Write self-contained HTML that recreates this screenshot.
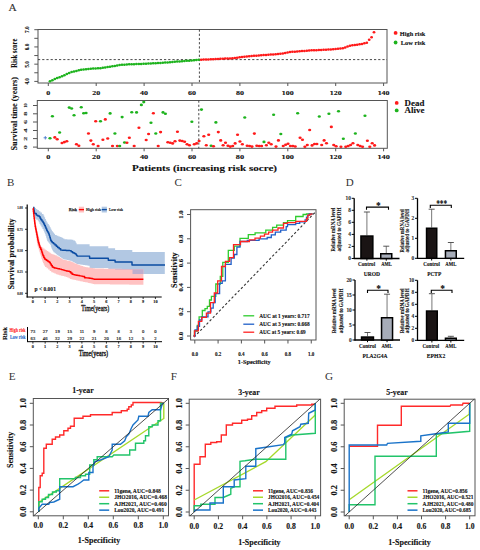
<!DOCTYPE html>
<html><head><meta charset="utf-8"><style>
html,body{margin:0;padding:0;background:#fff;width:480px;height:550px;overflow:hidden}
svg{display:block}
text{font-family:"Liberation Serif", serif}
</style></head><body>
<svg width="480" height="550" viewBox="0 0 480 550">
<rect width="480" height="550" fill="#fff"/>
<text x="8.6" y="10.7" font-size="11.3" stroke="#333" stroke-width="0.1" fill="#333" >A</text>
<rect x="38" y="29.5" width="349" height="53.5" stroke="#555" stroke-width="1" fill="none" />
<line x1="34.3" y1="29.7" x2="38" y2="29.7" stroke="#555" stroke-width="1" />
<line x1="34.3" y1="38.32" x2="38" y2="38.32" stroke="#555" stroke-width="1" />
<line x1="34.3" y1="46.93" x2="38" y2="46.93" stroke="#555" stroke-width="1" />
<line x1="34.3" y1="55.55" x2="38" y2="55.55" stroke="#555" stroke-width="1" />
<line x1="34.3" y1="64.17" x2="38" y2="64.17" stroke="#555" stroke-width="1" />
<line x1="34.3" y1="72.78" x2="38" y2="72.78" stroke="#555" stroke-width="1" />
<line x1="34.3" y1="81.4" x2="38" y2="81.4" stroke="#555" stroke-width="1" />
<text x="28.7" y="29.7" font-size="6.2" textLength="6.4" lengthAdjust="spacingAndGlyphs" stroke="#111" stroke-width="0.12" font-weight="bold" text-anchor="middle" fill="#111" transform="rotate(-90 28.7 29.7)" >7.0</text>
<text x="28.7" y="47" font-size="6.2" textLength="6.4" lengthAdjust="spacingAndGlyphs" stroke="#111" stroke-width="0.12" font-weight="bold" text-anchor="middle" fill="#111" transform="rotate(-90 28.7 47)" >6.0</text>
<text x="28.7" y="64.3" font-size="6.2" textLength="6.4" lengthAdjust="spacingAndGlyphs" stroke="#111" stroke-width="0.12" font-weight="bold" text-anchor="middle" fill="#111" transform="rotate(-90 28.7 64.3)" >5.0</text>
<text x="28.7" y="81.4" font-size="6.2" textLength="6.4" lengthAdjust="spacingAndGlyphs" stroke="#111" stroke-width="0.12" font-weight="bold" text-anchor="middle" fill="#111" transform="rotate(-90 28.7 81.4)" >4.0</text>
<text x="16.8" y="53.15" font-size="8" textLength="29" lengthAdjust="spacingAndGlyphs" stroke="#111" stroke-width="0.12" font-weight="bold" text-anchor="middle" fill="#111" transform="rotate(-90 16.8 53.15)" >Risk score</text>
<line x1="48.3" y1="83" x2="48.3" y2="86" stroke="#555" stroke-width="1" />
<text x="48.3" y="95.1" font-size="6.2" textLength="3.97" lengthAdjust="spacingAndGlyphs" stroke="#111" stroke-width="0.12" font-weight="bold" text-anchor="middle" fill="#111" >0</text>
<line x1="96.2" y1="83" x2="96.2" y2="86" stroke="#555" stroke-width="1" />
<text x="96.2" y="95.1" font-size="6.2" textLength="7.94" lengthAdjust="spacingAndGlyphs" stroke="#111" stroke-width="0.12" font-weight="bold" text-anchor="middle" fill="#111" >20</text>
<line x1="144.1" y1="83" x2="144.1" y2="86" stroke="#555" stroke-width="1" />
<text x="144.1" y="95.1" font-size="6.2" textLength="7.94" lengthAdjust="spacingAndGlyphs" stroke="#111" stroke-width="0.12" font-weight="bold" text-anchor="middle" fill="#111" >40</text>
<line x1="192" y1="83" x2="192" y2="86" stroke="#555" stroke-width="1" />
<text x="192" y="95.1" font-size="6.2" textLength="7.94" lengthAdjust="spacingAndGlyphs" stroke="#111" stroke-width="0.12" font-weight="bold" text-anchor="middle" fill="#111" >60</text>
<line x1="239.9" y1="83" x2="239.9" y2="86" stroke="#555" stroke-width="1" />
<text x="239.9" y="95.1" font-size="6.2" textLength="7.94" lengthAdjust="spacingAndGlyphs" stroke="#111" stroke-width="0.12" font-weight="bold" text-anchor="middle" fill="#111" >80</text>
<line x1="287.8" y1="83" x2="287.8" y2="86" stroke="#555" stroke-width="1" />
<text x="287.8" y="95.1" font-size="6.2" textLength="11.9" lengthAdjust="spacingAndGlyphs" stroke="#111" stroke-width="0.12" font-weight="bold" text-anchor="middle" fill="#111" >100</text>
<line x1="335.7" y1="83" x2="335.7" y2="86" stroke="#555" stroke-width="1" />
<text x="335.7" y="95.1" font-size="6.2" textLength="11.9" lengthAdjust="spacingAndGlyphs" stroke="#111" stroke-width="0.12" font-weight="bold" text-anchor="middle" fill="#111" >120</text>
<line x1="383.6" y1="83" x2="383.6" y2="86" stroke="#555" stroke-width="1" />
<text x="383.6" y="95.1" font-size="6.2" textLength="11.9" lengthAdjust="spacingAndGlyphs" stroke="#111" stroke-width="0.12" font-weight="bold" text-anchor="middle" fill="#111" >140</text>
<line x1="38" y1="59.6" x2="387" y2="59.6" stroke="#333" stroke-width="0.9" stroke-dasharray="2.2,2"/>
<line x1="199.4" y1="29.5" x2="199.4" y2="83" stroke="#333" stroke-width="0.9" stroke-dasharray="2.2,2"/>
<ellipse cx="50" cy="81.3" rx="1.4" ry="1.25" fill="#1db31d"/>
<ellipse cx="52.4" cy="80.24" rx="1.4" ry="1.25" fill="#1db31d"/>
<ellipse cx="54.8" cy="78.91" rx="1.4" ry="1.25" fill="#1db31d"/>
<ellipse cx="57.2" cy="78.01" rx="1.4" ry="1.25" fill="#1db31d"/>
<ellipse cx="59.6" cy="77.14" rx="1.4" ry="1.25" fill="#1db31d"/>
<ellipse cx="62" cy="76.2" rx="1.4" ry="1.25" fill="#1db31d"/>
<ellipse cx="64.4" cy="75.24" rx="1.4" ry="1.25" fill="#1db31d"/>
<ellipse cx="66.8" cy="74.1" rx="1.4" ry="1.25" fill="#1db31d"/>
<ellipse cx="69.2" cy="72.9" rx="1.4" ry="1.25" fill="#1db31d"/>
<ellipse cx="71.6" cy="72.1" rx="1.4" ry="1.25" fill="#1db31d"/>
<ellipse cx="74" cy="71.5" rx="1.4" ry="1.25" fill="#1db31d"/>
<ellipse cx="76.4" cy="70.9" rx="1.4" ry="1.25" fill="#1db31d"/>
<ellipse cx="78.8" cy="70.3" rx="1.4" ry="1.25" fill="#1db31d"/>
<ellipse cx="81.2" cy="69.82" rx="1.4" ry="1.25" fill="#1db31d"/>
<ellipse cx="83.6" cy="69.46" rx="1.4" ry="1.25" fill="#1db31d"/>
<ellipse cx="86" cy="69.15" rx="1.4" ry="1.25" fill="#1db31d"/>
<ellipse cx="88.4" cy="68.91" rx="1.4" ry="1.25" fill="#1db31d"/>
<ellipse cx="90.8" cy="68.71" rx="1.4" ry="1.25" fill="#1db31d"/>
<ellipse cx="93.2" cy="68.59" rx="1.4" ry="1.25" fill="#1db31d"/>
<ellipse cx="95.6" cy="68.47" rx="1.4" ry="1.25" fill="#1db31d"/>
<ellipse cx="98" cy="68.35" rx="1.4" ry="1.25" fill="#1db31d"/>
<ellipse cx="100.4" cy="68.19" rx="1.4" ry="1.25" fill="#1db31d"/>
<ellipse cx="102.8" cy="67.83" rx="1.4" ry="1.25" fill="#1db31d"/>
<ellipse cx="105.2" cy="67.47" rx="1.4" ry="1.25" fill="#1db31d"/>
<ellipse cx="107.6" cy="67.11" rx="1.4" ry="1.25" fill="#1db31d"/>
<ellipse cx="110" cy="66.75" rx="1.4" ry="1.25" fill="#1db31d"/>
<ellipse cx="112.4" cy="66.33" rx="1.4" ry="1.25" fill="#1db31d"/>
<ellipse cx="114.8" cy="65.91" rx="1.4" ry="1.25" fill="#1db31d"/>
<ellipse cx="117.2" cy="65.49" rx="1.4" ry="1.25" fill="#1db31d"/>
<ellipse cx="119.6" cy="65.07" rx="1.4" ry="1.25" fill="#1db31d"/>
<ellipse cx="122" cy="64.86" rx="1.4" ry="1.25" fill="#1db31d"/>
<ellipse cx="124.4" cy="64.69" rx="1.4" ry="1.25" fill="#1db31d"/>
<ellipse cx="126.8" cy="64.52" rx="1.4" ry="1.25" fill="#1db31d"/>
<ellipse cx="129.2" cy="64.36" rx="1.4" ry="1.25" fill="#1db31d"/>
<ellipse cx="131.6" cy="64.25" rx="1.4" ry="1.25" fill="#1db31d"/>
<ellipse cx="134" cy="64.17" rx="1.4" ry="1.25" fill="#1db31d"/>
<ellipse cx="136.4" cy="64.09" rx="1.4" ry="1.25" fill="#1db31d"/>
<ellipse cx="138.8" cy="64.01" rx="1.4" ry="1.25" fill="#1db31d"/>
<ellipse cx="141.2" cy="63.93" rx="1.4" ry="1.25" fill="#1db31d"/>
<ellipse cx="143.6" cy="63.85" rx="1.4" ry="1.25" fill="#1db31d"/>
<ellipse cx="146" cy="63.75" rx="1.4" ry="1.25" fill="#1db31d"/>
<ellipse cx="148.4" cy="63.62" rx="1.4" ry="1.25" fill="#1db31d"/>
<ellipse cx="150.8" cy="63.49" rx="1.4" ry="1.25" fill="#1db31d"/>
<ellipse cx="153.2" cy="63.36" rx="1.4" ry="1.25" fill="#1db31d"/>
<ellipse cx="155.6" cy="63.23" rx="1.4" ry="1.25" fill="#1db31d"/>
<ellipse cx="158" cy="63.11" rx="1.4" ry="1.25" fill="#1db31d"/>
<ellipse cx="160.4" cy="62.97" rx="1.4" ry="1.25" fill="#1db31d"/>
<ellipse cx="162.8" cy="62.78" rx="1.4" ry="1.25" fill="#1db31d"/>
<ellipse cx="165.2" cy="62.58" rx="1.4" ry="1.25" fill="#1db31d"/>
<ellipse cx="167.6" cy="62.39" rx="1.4" ry="1.25" fill="#1db31d"/>
<ellipse cx="170" cy="62.2" rx="1.4" ry="1.25" fill="#1db31d"/>
<ellipse cx="172.4" cy="62.01" rx="1.4" ry="1.25" fill="#1db31d"/>
<ellipse cx="174.8" cy="61.82" rx="1.4" ry="1.25" fill="#1db31d"/>
<ellipse cx="177.2" cy="61.62" rx="1.4" ry="1.25" fill="#1db31d"/>
<ellipse cx="179.6" cy="61.43" rx="1.4" ry="1.25" fill="#1db31d"/>
<ellipse cx="182" cy="61.24" rx="1.4" ry="1.25" fill="#1db31d"/>
<ellipse cx="184.4" cy="61.04" rx="1.4" ry="1.25" fill="#1db31d"/>
<ellipse cx="186.8" cy="60.84" rx="1.4" ry="1.25" fill="#1db31d"/>
<ellipse cx="189.2" cy="60.64" rx="1.4" ry="1.25" fill="#1db31d"/>
<ellipse cx="191.6" cy="60.44" rx="1.4" ry="1.25" fill="#1db31d"/>
<ellipse cx="194" cy="60.25" rx="1.4" ry="1.25" fill="#1db31d"/>
<ellipse cx="196.4" cy="60.05" rx="1.4" ry="1.25" fill="#1db31d"/>
<ellipse cx="198.8" cy="59.85" rx="1.4" ry="1.25" fill="#1db31d"/>
<ellipse cx="201.2" cy="59.72" rx="1.4" ry="1.25" fill="#ff1a1a"/>
<ellipse cx="203.6" cy="59.6" rx="1.4" ry="1.25" fill="#ff1a1a"/>
<ellipse cx="206" cy="59.49" rx="1.4" ry="1.25" fill="#ff1a1a"/>
<ellipse cx="208.4" cy="59.38" rx="1.4" ry="1.25" fill="#ff1a1a"/>
<ellipse cx="210.8" cy="59.27" rx="1.4" ry="1.25" fill="#ff1a1a"/>
<ellipse cx="213.2" cy="59.16" rx="1.4" ry="1.25" fill="#ff1a1a"/>
<ellipse cx="215.6" cy="59.05" rx="1.4" ry="1.25" fill="#ff1a1a"/>
<ellipse cx="218" cy="58.94" rx="1.4" ry="1.25" fill="#ff1a1a"/>
<ellipse cx="220.4" cy="58.82" rx="1.4" ry="1.25" fill="#ff1a1a"/>
<ellipse cx="222.8" cy="58.71" rx="1.4" ry="1.25" fill="#ff1a1a"/>
<ellipse cx="225.2" cy="58.6" rx="1.4" ry="1.25" fill="#ff1a1a"/>
<ellipse cx="227.6" cy="58.49" rx="1.4" ry="1.25" fill="#ff1a1a"/>
<ellipse cx="230" cy="58.38" rx="1.4" ry="1.25" fill="#ff1a1a"/>
<ellipse cx="232.4" cy="58.21" rx="1.4" ry="1.25" fill="#ff1a1a"/>
<ellipse cx="234.8" cy="57.92" rx="1.4" ry="1.25" fill="#ff1a1a"/>
<ellipse cx="237.2" cy="57.63" rx="1.4" ry="1.25" fill="#ff1a1a"/>
<ellipse cx="239.6" cy="57.33" rx="1.4" ry="1.25" fill="#ff1a1a"/>
<ellipse cx="242" cy="57.04" rx="1.4" ry="1.25" fill="#ff1a1a"/>
<ellipse cx="244.4" cy="56.74" rx="1.4" ry="1.25" fill="#ff1a1a"/>
<ellipse cx="246.8" cy="56.45" rx="1.4" ry="1.25" fill="#ff1a1a"/>
<ellipse cx="249.2" cy="56.21" rx="1.4" ry="1.25" fill="#ff1a1a"/>
<ellipse cx="251.6" cy="56.02" rx="1.4" ry="1.25" fill="#ff1a1a"/>
<ellipse cx="254" cy="55.84" rx="1.4" ry="1.25" fill="#ff1a1a"/>
<ellipse cx="256.4" cy="55.66" rx="1.4" ry="1.25" fill="#ff1a1a"/>
<ellipse cx="258.8" cy="55.47" rx="1.4" ry="1.25" fill="#ff1a1a"/>
<ellipse cx="261.2" cy="55.29" rx="1.4" ry="1.25" fill="#ff1a1a"/>
<ellipse cx="263.6" cy="55.11" rx="1.4" ry="1.25" fill="#ff1a1a"/>
<ellipse cx="266" cy="54.93" rx="1.4" ry="1.25" fill="#ff1a1a"/>
<ellipse cx="268.4" cy="54.75" rx="1.4" ry="1.25" fill="#ff1a1a"/>
<ellipse cx="270.8" cy="54.57" rx="1.4" ry="1.25" fill="#ff1a1a"/>
<ellipse cx="273.2" cy="54.39" rx="1.4" ry="1.25" fill="#ff1a1a"/>
<ellipse cx="275.6" cy="54.21" rx="1.4" ry="1.25" fill="#ff1a1a"/>
<ellipse cx="278" cy="54.03" rx="1.4" ry="1.25" fill="#ff1a1a"/>
<ellipse cx="280.4" cy="53.85" rx="1.4" ry="1.25" fill="#ff1a1a"/>
<ellipse cx="282.8" cy="53.52" rx="1.4" ry="1.25" fill="#ff1a1a"/>
<ellipse cx="285.2" cy="53.01" rx="1.4" ry="1.25" fill="#ff1a1a"/>
<ellipse cx="287.6" cy="52.51" rx="1.4" ry="1.25" fill="#ff1a1a"/>
<ellipse cx="290" cy="52" rx="1.4" ry="1.25" fill="#ff1a1a"/>
<ellipse cx="292.4" cy="51.82" rx="1.4" ry="1.25" fill="#ff1a1a"/>
<ellipse cx="294.8" cy="51.63" rx="1.4" ry="1.25" fill="#ff1a1a"/>
<ellipse cx="297.2" cy="51.45" rx="1.4" ry="1.25" fill="#ff1a1a"/>
<ellipse cx="299.6" cy="51.26" rx="1.4" ry="1.25" fill="#ff1a1a"/>
<ellipse cx="302" cy="51.08" rx="1.4" ry="1.25" fill="#ff1a1a"/>
<ellipse cx="304.4" cy="50.89" rx="1.4" ry="1.25" fill="#ff1a1a"/>
<ellipse cx="306.8" cy="50.71" rx="1.4" ry="1.25" fill="#ff1a1a"/>
<ellipse cx="309.2" cy="50.52" rx="1.4" ry="1.25" fill="#ff1a1a"/>
<ellipse cx="311.6" cy="50.36" rx="1.4" ry="1.25" fill="#ff1a1a"/>
<ellipse cx="314" cy="50.25" rx="1.4" ry="1.25" fill="#ff1a1a"/>
<ellipse cx="316.4" cy="50.13" rx="1.4" ry="1.25" fill="#ff1a1a"/>
<ellipse cx="318.8" cy="50.02" rx="1.4" ry="1.25" fill="#ff1a1a"/>
<ellipse cx="321.2" cy="49.9" rx="1.4" ry="1.25" fill="#ff1a1a"/>
<ellipse cx="323.6" cy="49.79" rx="1.4" ry="1.25" fill="#ff1a1a"/>
<ellipse cx="326" cy="49.67" rx="1.4" ry="1.25" fill="#ff1a1a"/>
<ellipse cx="328.4" cy="49.56" rx="1.4" ry="1.25" fill="#ff1a1a"/>
<ellipse cx="330.8" cy="49.44" rx="1.4" ry="1.25" fill="#ff1a1a"/>
<ellipse cx="333.2" cy="49.25" rx="1.4" ry="1.25" fill="#ff1a1a"/>
<ellipse cx="335.6" cy="49.02" rx="1.4" ry="1.25" fill="#ff1a1a"/>
<ellipse cx="338" cy="48.79" rx="1.4" ry="1.25" fill="#ff1a1a"/>
<ellipse cx="340.4" cy="48.55" rx="1.4" ry="1.25" fill="#ff1a1a"/>
<ellipse cx="342.8" cy="48.32" rx="1.4" ry="1.25" fill="#ff1a1a"/>
<ellipse cx="345.2" cy="47.51" rx="1.4" ry="1.25" fill="#ff1a1a"/>
<ellipse cx="347.6" cy="46.48" rx="1.4" ry="1.25" fill="#ff1a1a"/>
<ellipse cx="350" cy="45.73" rx="1.4" ry="1.25" fill="#ff1a1a"/>
<ellipse cx="352.4" cy="45.33" rx="1.4" ry="1.25" fill="#ff1a1a"/>
<ellipse cx="354.8" cy="45.01" rx="1.4" ry="1.25" fill="#ff1a1a"/>
<ellipse cx="357.2" cy="44.68" rx="1.4" ry="1.25" fill="#ff1a1a"/>
<ellipse cx="359.6" cy="44.36" rx="1.4" ry="1.25" fill="#ff1a1a"/>
<ellipse cx="362" cy="43.91" rx="1.4" ry="1.25" fill="#ff1a1a"/>
<ellipse cx="364.4" cy="43.33" rx="1.4" ry="1.25" fill="#ff1a1a"/>
<ellipse cx="366.8" cy="42.75" rx="1.4" ry="1.25" fill="#ff1a1a"/>
<ellipse cx="369.2" cy="39.74" rx="1.4" ry="1.25" fill="#ff1a1a"/>
<ellipse cx="371.6" cy="37.28" rx="1.4" ry="1.25" fill="#ff1a1a"/>
<ellipse cx="374" cy="32.17" rx="1.4" ry="1.25" fill="#ff1a1a"/>
<circle cx="395.6" cy="32.9" r="1.9" fill="#ff1a1a"/>
<text x="399.8" y="35.6" font-size="6.6" textLength="25.6" lengthAdjust="spacingAndGlyphs" stroke="#111" stroke-width="0.12" font-weight="bold" fill="#111" >High risk</text>
<circle cx="395.6" cy="42.5" r="1.9" fill="#1db31d"/>
<text x="400.8" y="45.2" font-size="6.6" textLength="24.6" lengthAdjust="spacingAndGlyphs" stroke="#111" stroke-width="0.12" font-weight="bold" fill="#111" >Low risk</text>
<rect x="37.3" y="100.5" width="350" height="47.8" stroke="#555" stroke-width="1" fill="none" />
<line x1="33" y1="147.1" x2="37.3" y2="147.1" stroke="#555" stroke-width="1" />
<text x="27.1" y="147.1" font-size="4.8" textLength="4.1" lengthAdjust="spacingAndGlyphs" stroke="#333" stroke-width="0.12" font-weight="bold" text-anchor="middle" fill="#333" transform="rotate(-90 27.1 147.1)" >0</text>
<line x1="33" y1="138.6" x2="37.3" y2="138.6" stroke="#555" stroke-width="1" />
<text x="27.1" y="138.6" font-size="4.8" textLength="4.1" lengthAdjust="spacingAndGlyphs" stroke="#333" stroke-width="0.12" font-weight="bold" text-anchor="middle" fill="#333" transform="rotate(-90 27.1 138.6)" >2</text>
<line x1="33" y1="130.5" x2="37.3" y2="130.5" stroke="#555" stroke-width="1" />
<text x="27.1" y="130.5" font-size="4.8" textLength="4.1" lengthAdjust="spacingAndGlyphs" stroke="#333" stroke-width="0.12" font-weight="bold" text-anchor="middle" fill="#333" transform="rotate(-90 27.1 130.5)" >4</text>
<line x1="33" y1="122" x2="37.3" y2="122" stroke="#555" stroke-width="1" />
<text x="27.1" y="122" font-size="4.8" textLength="4.1" lengthAdjust="spacingAndGlyphs" stroke="#333" stroke-width="0.12" font-weight="bold" text-anchor="middle" fill="#333" transform="rotate(-90 27.1 122)" >6</text>
<line x1="33" y1="113.8" x2="37.3" y2="113.8" stroke="#555" stroke-width="1" />
<text x="27.1" y="113.8" font-size="4.8" textLength="4.1" lengthAdjust="spacingAndGlyphs" stroke="#333" stroke-width="0.12" font-weight="bold" text-anchor="middle" fill="#333" transform="rotate(-90 27.1 113.8)" >8</text>
<line x1="33" y1="105.5" x2="37.3" y2="105.5" stroke="#555" stroke-width="1" />
<text x="27.1" y="105.5" font-size="4.8" textLength="4.1" lengthAdjust="spacingAndGlyphs" stroke="#333" stroke-width="0.12" font-weight="bold" text-anchor="middle" fill="#333" transform="rotate(-90 27.1 105.5)" >10</text>
<line x1="48.3" y1="148.3" x2="48.3" y2="151.3" stroke="#555" stroke-width="1" />
<text x="48.3" y="159.1" font-size="6.2" textLength="4.12" lengthAdjust="spacingAndGlyphs" stroke="#111" stroke-width="0.12" font-weight="bold" text-anchor="middle" fill="#111" >0</text>
<line x1="96.2" y1="148.3" x2="96.2" y2="151.3" stroke="#555" stroke-width="1" />
<text x="96.2" y="159.1" font-size="6.2" textLength="8.25" lengthAdjust="spacingAndGlyphs" stroke="#111" stroke-width="0.12" font-weight="bold" text-anchor="middle" fill="#111" >20</text>
<line x1="144.1" y1="148.3" x2="144.1" y2="151.3" stroke="#555" stroke-width="1" />
<text x="144.1" y="159.1" font-size="6.2" textLength="8.25" lengthAdjust="spacingAndGlyphs" stroke="#111" stroke-width="0.12" font-weight="bold" text-anchor="middle" fill="#111" >40</text>
<line x1="192" y1="148.3" x2="192" y2="151.3" stroke="#555" stroke-width="1" />
<text x="192" y="159.1" font-size="6.2" textLength="8.25" lengthAdjust="spacingAndGlyphs" stroke="#111" stroke-width="0.12" font-weight="bold" text-anchor="middle" fill="#111" >60</text>
<line x1="239.9" y1="148.3" x2="239.9" y2="151.3" stroke="#555" stroke-width="1" />
<text x="239.9" y="159.1" font-size="6.2" textLength="8.25" lengthAdjust="spacingAndGlyphs" stroke="#111" stroke-width="0.12" font-weight="bold" text-anchor="middle" fill="#111" >80</text>
<line x1="287.8" y1="148.3" x2="287.8" y2="151.3" stroke="#555" stroke-width="1" />
<text x="287.8" y="159.1" font-size="6.2" textLength="12.37" lengthAdjust="spacingAndGlyphs" stroke="#111" stroke-width="0.12" font-weight="bold" text-anchor="middle" fill="#111" >100</text>
<line x1="335.7" y1="148.3" x2="335.7" y2="151.3" stroke="#555" stroke-width="1" />
<text x="335.7" y="159.1" font-size="6.2" textLength="12.37" lengthAdjust="spacingAndGlyphs" stroke="#111" stroke-width="0.12" font-weight="bold" text-anchor="middle" fill="#111" >120</text>
<line x1="383.6" y1="148.3" x2="383.6" y2="151.3" stroke="#555" stroke-width="1" />
<text x="383.6" y="159.1" font-size="6.2" textLength="12.37" lengthAdjust="spacingAndGlyphs" stroke="#111" stroke-width="0.12" font-weight="bold" text-anchor="middle" fill="#111" >140</text>
<line x1="198.8" y1="100.5" x2="198.8" y2="148.3" stroke="#333" stroke-width="0.9" stroke-dasharray="2.2,2"/>
<text x="16.6" y="113.75" font-size="8.2" textLength="73.5" lengthAdjust="spacingAndGlyphs" stroke="#111" stroke-width="0.12" font-weight="bold" text-anchor="middle" fill="#111" transform="rotate(-90 16.6 113.75)" >Survival time (years)</text>
<text x="132" y="171" font-size="9" textLength="145" lengthAdjust="spacingAndGlyphs" stroke="#111" stroke-width="0.12" font-weight="bold" fill="#111" >Patients (increasing risk socre)</text>
<ellipse cx="50" cy="138.2" rx="1.6" ry="1.3" fill="#1db31d"/>
<ellipse cx="52.4" cy="116.2" rx="1.6" ry="1.3" fill="#1db31d"/>
<ellipse cx="54.81" cy="137.4" rx="1.6" ry="1.3" fill="#ff1a1a"/>
<ellipse cx="57.21" cy="139.3" rx="1.6" ry="1.3" fill="#ff1a1a"/>
<ellipse cx="59.62" cy="132.5" rx="1.6" ry="1.3" fill="#1db31d"/>
<ellipse cx="62.02" cy="143" rx="1.6" ry="1.3" fill="#ff1a1a"/>
<ellipse cx="64.43" cy="142.1" rx="1.6" ry="1.3" fill="#ff1a1a"/>
<ellipse cx="66.83" cy="141.2" rx="1.6" ry="1.3" fill="#ff1a1a"/>
<ellipse cx="69.24" cy="107.6" rx="1.6" ry="1.3" fill="#1db31d"/>
<ellipse cx="71.64" cy="108.5" rx="1.6" ry="1.3" fill="#1db31d"/>
<ellipse cx="74.04" cy="115.3" rx="1.6" ry="1.3" fill="#1db31d"/>
<ellipse cx="76.45" cy="144.3" rx="1.6" ry="1.3" fill="#ff1a1a"/>
<ellipse cx="78.85" cy="145.7" rx="1.6" ry="1.3" fill="#ff1a1a"/>
<ellipse cx="81.26" cy="107.2" rx="1.6" ry="1.3" fill="#1db31d"/>
<ellipse cx="83.66" cy="113.2" rx="1.6" ry="1.3" fill="#1db31d"/>
<ellipse cx="86.07" cy="113" rx="1.6" ry="1.3" fill="#1db31d"/>
<ellipse cx="88.47" cy="133.5" rx="1.6" ry="1.3" fill="#ff1a1a"/>
<ellipse cx="90.88" cy="140.6" rx="1.6" ry="1.3" fill="#ff1a1a"/>
<ellipse cx="93.28" cy="144.2" rx="1.6" ry="1.3" fill="#ff1a1a"/>
<ellipse cx="95.68" cy="121.3" rx="1.6" ry="1.3" fill="#ff1a1a"/>
<ellipse cx="98.09" cy="146" rx="1.6" ry="1.3" fill="#ff1a1a"/>
<ellipse cx="100.49" cy="121.3" rx="1.6" ry="1.3" fill="#1db31d"/>
<ellipse cx="102.9" cy="139.7" rx="1.6" ry="1.3" fill="#ff1a1a"/>
<ellipse cx="105.3" cy="119.4" rx="1.6" ry="1.3" fill="#ff1a1a"/>
<ellipse cx="107.71" cy="138.5" rx="1.6" ry="1.3" fill="#ff1a1a"/>
<ellipse cx="110.11" cy="113.4" rx="1.6" ry="1.3" fill="#1db31d"/>
<ellipse cx="112.52" cy="146" rx="1.6" ry="1.3" fill="#ff1a1a"/>
<ellipse cx="114.92" cy="133.5" rx="1.6" ry="1.3" fill="#1db31d"/>
<ellipse cx="117.32" cy="146" rx="1.6" ry="1.3" fill="#ff1a1a"/>
<ellipse cx="119.73" cy="146" rx="1.6" ry="1.3" fill="#1db31d"/>
<ellipse cx="122.13" cy="117.1" rx="1.6" ry="1.3" fill="#1db31d"/>
<ellipse cx="124.54" cy="142.5" rx="1.6" ry="1.3" fill="#1db31d"/>
<ellipse cx="126.94" cy="142.8" rx="1.6" ry="1.3" fill="#ff1a1a"/>
<ellipse cx="129.35" cy="137.8" rx="1.6" ry="1.3" fill="#ff1a1a"/>
<ellipse cx="131.75" cy="112.3" rx="1.6" ry="1.3" fill="#1db31d"/>
<ellipse cx="134.16" cy="146" rx="1.6" ry="1.3" fill="#ff1a1a"/>
<ellipse cx="136.56" cy="112.4" rx="1.6" ry="1.3" fill="#1db31d"/>
<ellipse cx="138.96" cy="127.8" rx="1.6" ry="1.3" fill="#ff1a1a"/>
<ellipse cx="141.37" cy="104.9" rx="1.6" ry="1.3" fill="#1db31d"/>
<ellipse cx="143.77" cy="102.1" rx="1.6" ry="1.3" fill="#1db31d"/>
<ellipse cx="146.18" cy="140" rx="1.6" ry="1.3" fill="#ff1a1a"/>
<ellipse cx="148.58" cy="134" rx="1.6" ry="1.3" fill="#ff1a1a"/>
<ellipse cx="150.99" cy="122.8" rx="1.6" ry="1.3" fill="#1db31d"/>
<ellipse cx="153.39" cy="113.2" rx="1.6" ry="1.3" fill="#ff1a1a"/>
<ellipse cx="155.8" cy="133.5" rx="1.6" ry="1.3" fill="#1db31d"/>
<ellipse cx="158.2" cy="146" rx="1.6" ry="1.3" fill="#ff1a1a"/>
<ellipse cx="160.6" cy="132.1" rx="1.6" ry="1.3" fill="#ff1a1a"/>
<ellipse cx="163.01" cy="112.4" rx="1.6" ry="1.3" fill="#1db31d"/>
<ellipse cx="165.41" cy="113.8" rx="1.6" ry="1.3" fill="#1db31d"/>
<ellipse cx="167.82" cy="142.3" rx="1.6" ry="1.3" fill="#ff1a1a"/>
<ellipse cx="170.22" cy="142.8" rx="1.6" ry="1.3" fill="#ff1a1a"/>
<ellipse cx="172.63" cy="143.4" rx="1.6" ry="1.3" fill="#ff1a1a"/>
<ellipse cx="175.03" cy="141.2" rx="1.6" ry="1.3" fill="#ff1a1a"/>
<ellipse cx="177.44" cy="131.8" rx="1.6" ry="1.3" fill="#ff1a1a"/>
<ellipse cx="179.84" cy="140.6" rx="1.6" ry="1.3" fill="#ff1a1a"/>
<ellipse cx="182.24" cy="141" rx="1.6" ry="1.3" fill="#ff1a1a"/>
<ellipse cx="184.65" cy="141.7" rx="1.6" ry="1.3" fill="#ff1a1a"/>
<ellipse cx="187.05" cy="144.2" rx="1.6" ry="1.3" fill="#ff1a1a"/>
<ellipse cx="189.46" cy="145.3" rx="1.6" ry="1.3" fill="#ff1a1a"/>
<ellipse cx="191.86" cy="121.8" rx="1.6" ry="1.3" fill="#1db31d"/>
<ellipse cx="194.27" cy="144.2" rx="1.6" ry="1.3" fill="#ff1a1a"/>
<ellipse cx="196.67" cy="143.4" rx="1.6" ry="1.3" fill="#ff1a1a"/>
<ellipse cx="199.08" cy="141" rx="1.6" ry="1.3" fill="#ff1a1a"/>
<ellipse cx="201.48" cy="109.6" rx="1.6" ry="1.3" fill="#1db31d"/>
<ellipse cx="203.88" cy="136.3" rx="1.6" ry="1.3" fill="#ff1a1a"/>
<ellipse cx="206.29" cy="145.3" rx="1.6" ry="1.3" fill="#ff1a1a"/>
<ellipse cx="208.69" cy="134.8" rx="1.6" ry="1.3" fill="#ff1a1a"/>
<ellipse cx="211.1" cy="145.7" rx="1.6" ry="1.3" fill="#1db31d"/>
<ellipse cx="213.5" cy="146.2" rx="1.6" ry="1.3" fill="#ff1a1a"/>
<ellipse cx="215.91" cy="122.4" rx="1.6" ry="1.3" fill="#1db31d"/>
<ellipse cx="218.31" cy="132.1" rx="1.6" ry="1.3" fill="#ff1a1a"/>
<ellipse cx="220.72" cy="140.4" rx="1.6" ry="1.3" fill="#ff1a1a"/>
<ellipse cx="223.12" cy="145.3" rx="1.6" ry="1.3" fill="#ff1a1a"/>
<ellipse cx="225.52" cy="142.8" rx="1.6" ry="1.3" fill="#ff1a1a"/>
<ellipse cx="227.93" cy="145.7" rx="1.6" ry="1.3" fill="#ff1a1a"/>
<ellipse cx="230.33" cy="146.6" rx="1.6" ry="1.3" fill="#ff1a1a"/>
<ellipse cx="232.74" cy="146" rx="1.6" ry="1.3" fill="#ff1a1a"/>
<ellipse cx="235.14" cy="143.4" rx="1.6" ry="1.3" fill="#ff1a1a"/>
<ellipse cx="237.55" cy="134.8" rx="1.6" ry="1.3" fill="#ff1a1a"/>
<ellipse cx="239.95" cy="141.5" rx="1.6" ry="1.3" fill="#ff1a1a"/>
<ellipse cx="242.36" cy="144.3" rx="1.6" ry="1.3" fill="#ff1a1a"/>
<ellipse cx="244.76" cy="117.5" rx="1.6" ry="1.3" fill="#1db31d"/>
<ellipse cx="247.16" cy="145.7" rx="1.6" ry="1.3" fill="#ff1a1a"/>
<ellipse cx="249.57" cy="146" rx="1.6" ry="1.3" fill="#ff1a1a"/>
<ellipse cx="251.97" cy="146.6" rx="1.6" ry="1.3" fill="#ff1a1a"/>
<ellipse cx="254.38" cy="133.6" rx="1.6" ry="1.3" fill="#ff1a1a"/>
<ellipse cx="256.78" cy="145.7" rx="1.6" ry="1.3" fill="#ff1a1a"/>
<ellipse cx="259.19" cy="146" rx="1.6" ry="1.3" fill="#ff1a1a"/>
<ellipse cx="261.59" cy="146" rx="1.6" ry="1.3" fill="#ff1a1a"/>
<ellipse cx="264" cy="141.9" rx="1.6" ry="1.3" fill="#1db31d"/>
<ellipse cx="266.4" cy="145.3" rx="1.6" ry="1.3" fill="#ff1a1a"/>
<ellipse cx="268.8" cy="142.8" rx="1.6" ry="1.3" fill="#ff1a1a"/>
<ellipse cx="271.21" cy="144.2" rx="1.6" ry="1.3" fill="#ff1a1a"/>
<ellipse cx="273.61" cy="114.7" rx="1.6" ry="1.3" fill="#1db31d"/>
<ellipse cx="276.02" cy="146.6" rx="1.6" ry="1.3" fill="#ff1a1a"/>
<ellipse cx="278.42" cy="140.4" rx="1.6" ry="1.3" fill="#ff1a1a"/>
<ellipse cx="280.83" cy="134" rx="1.6" ry="1.3" fill="#1db31d"/>
<ellipse cx="283.23" cy="146" rx="1.6" ry="1.3" fill="#ff1a1a"/>
<ellipse cx="285.64" cy="144.7" rx="1.6" ry="1.3" fill="#ff1a1a"/>
<ellipse cx="288.04" cy="143.8" rx="1.6" ry="1.3" fill="#ff1a1a"/>
<ellipse cx="290.44" cy="146" rx="1.6" ry="1.3" fill="#ff1a1a"/>
<ellipse cx="292.85" cy="146" rx="1.6" ry="1.3" fill="#ff1a1a"/>
<ellipse cx="295.25" cy="146.5" rx="1.6" ry="1.3" fill="#ff1a1a"/>
<ellipse cx="297.66" cy="113.3" rx="1.6" ry="1.3" fill="#1db31d"/>
<ellipse cx="300.06" cy="137.7" rx="1.6" ry="1.3" fill="#ff1a1a"/>
<ellipse cx="302.47" cy="139.8" rx="1.6" ry="1.3" fill="#ff1a1a"/>
<ellipse cx="304.87" cy="146.7" rx="1.6" ry="1.3" fill="#ff1a1a"/>
<ellipse cx="307.28" cy="145" rx="1.6" ry="1.3" fill="#ff1a1a"/>
<ellipse cx="309.68" cy="130" rx="1.6" ry="1.3" fill="#ff1a1a"/>
<ellipse cx="312.08" cy="145.4" rx="1.6" ry="1.3" fill="#ff1a1a"/>
<ellipse cx="314.49" cy="144" rx="1.6" ry="1.3" fill="#ff1a1a"/>
<ellipse cx="316.89" cy="144" rx="1.6" ry="1.3" fill="#ff1a1a"/>
<ellipse cx="319.3" cy="116.5" rx="1.6" ry="1.3" fill="#1db31d"/>
<ellipse cx="321.7" cy="145" rx="1.6" ry="1.3" fill="#ff1a1a"/>
<ellipse cx="324.11" cy="140.4" rx="1.6" ry="1.3" fill="#ff1a1a"/>
<ellipse cx="326.51" cy="143.3" rx="1.6" ry="1.3" fill="#ff1a1a"/>
<ellipse cx="328.92" cy="113.75" rx="1.6" ry="1.3" fill="#1db31d"/>
<ellipse cx="331.32" cy="126.9" rx="1.6" ry="1.3" fill="#ff1a1a"/>
<ellipse cx="333.72" cy="145" rx="1.6" ry="1.3" fill="#ff1a1a"/>
<ellipse cx="336.13" cy="146.25" rx="1.6" ry="1.3" fill="#ff1a1a"/>
<ellipse cx="338.53" cy="111.25" rx="1.6" ry="1.3" fill="#1db31d"/>
<ellipse cx="340.94" cy="146.7" rx="1.6" ry="1.3" fill="#ff1a1a"/>
<ellipse cx="343.34" cy="138.75" rx="1.6" ry="1.3" fill="#1db31d"/>
<ellipse cx="345.75" cy="146.7" rx="1.6" ry="1.3" fill="#ff1a1a"/>
<ellipse cx="348.15" cy="146" rx="1.6" ry="1.3" fill="#ff1a1a"/>
<ellipse cx="350.56" cy="145" rx="1.6" ry="1.3" fill="#ff1a1a"/>
<ellipse cx="352.96" cy="143.3" rx="1.6" ry="1.3" fill="#ff1a1a"/>
<ellipse cx="355.36" cy="133.5" rx="1.6" ry="1.3" fill="#1db31d"/>
<ellipse cx="357.77" cy="145" rx="1.6" ry="1.3" fill="#ff1a1a"/>
<ellipse cx="360.17" cy="146" rx="1.6" ry="1.3" fill="#ff1a1a"/>
<ellipse cx="362.58" cy="146.7" rx="1.6" ry="1.3" fill="#ff1a1a"/>
<ellipse cx="364.98" cy="115.8" rx="1.6" ry="1.3" fill="#1db31d"/>
<ellipse cx="367.39" cy="140.8" rx="1.6" ry="1.3" fill="#ff1a1a"/>
<ellipse cx="369.79" cy="146.7" rx="1.6" ry="1.3" fill="#ff1a1a"/>
<ellipse cx="372.2" cy="143.3" rx="1.6" ry="1.3" fill="#ff1a1a"/>
<ellipse cx="374.6" cy="145.4" rx="1.6" ry="1.3" fill="#ff1a1a"/>
<line x1="43.6" y1="137.8" x2="47" y2="137.8" stroke="#4477cc" stroke-width="0.9" />
<line x1="45.3" y1="136.1" x2="45.3" y2="139.5" stroke="#4477cc" stroke-width="0.9" />
<circle cx="396.7" cy="102.9" r="1.9" fill="#ff1a1a"/>
<text x="404.6" y="105.6" font-size="8" textLength="19.8" lengthAdjust="spacingAndGlyphs" stroke="#111" stroke-width="0.12" font-weight="bold" fill="#111" >Dead</text>
<circle cx="396.7" cy="110.4" r="1.9" fill="#1db31d"/>
<text x="404.6" y="113" font-size="8" textLength="19.8" lengthAdjust="spacingAndGlyphs" stroke="#111" stroke-width="0.12" font-weight="bold" fill="#111" >Alive</text>
<text x="7" y="186.4" font-size="11" fill="#333" >B</text>
<polygon points="33.5,207 34.77,207 34.77,207.97 36.03,207.97 36.03,208.93 37.3,208.93 37.3,209.9 38.85,209.9 38.85,211.2 40.4,211.2 40.4,212.5 41.95,212.5 41.95,214.05 43.5,214.05 43.5,215.6 44.3,215.6 44.3,217.3 45.1,217.3 45.1,219 45.9,219 45.9,220.7 46.7,220.7 46.7,222.4 47.73,222.4 47.73,223.93 48.77,223.93 48.77,225.47 49.8,225.47 49.8,227 50.5,227 50.5,228.42 51.2,228.42 51.2,229.83 51.9,229.83 51.9,231.25 52.93,231.25 52.93,232.5 53.97,232.5 53.97,233.75 55,233.75 55,235 56.73,235 56.73,235.7 58.47,235.7 58.47,236.4 60.2,236.4 60.2,237.1 61.6,237.1 61.6,237.8 63,237.8 63,238.5 64.4,238.5 64.4,239.2 65.86,239.2 65.86,239.3 67.32,239.3 67.32,239.4 68.78,239.4 68.78,239.5 70.24,239.5 70.24,239.6 71.7,239.6 71.7,239.7 73.35,239.7 73.35,240.47 75,240.47 75,241.25 75.8,241.25 75.8,242.72 76.6,242.72 76.6,244.2 89.6,244.2 89.6,246.25 108.3,246.25 108.3,248.3 115.1,248.3 115.1,249.9 132.3,249.9 132.3,252 164.8,252 164.8,273.9 132.5,273.9 132.5,269.7 115.1,269.7 115.1,269.2 108.3,269.2 108.3,268.1 89.6,268.1 89.6,266 89.6,265.7 88.15,265.7 88.15,265.4 86.7,265.4 86.7,265.15 84.96,265.15 84.96,264.9 83.22,264.9 83.22,264.65 81.47,264.65 81.47,264.4 79.73,264.4 79.73,264.15 77.99,264.15 77.99,263.9 76.25,263.9 76.25,263.1 74.69,263.1 74.69,262.3 73.12,262.3 73.12,261.5 71.56,261.5 71.56,260.7 70,260.7 70,260.4 68.54,260.4 68.54,260.1 67.08,260.1 67.08,259.8 65.62,259.8 65.62,259.5 64.16,259.5 64.16,259.2 62.7,259.2 62.7,258.23 61.3,258.23 61.3,257.25 59.9,257.25 59.9,256.27 58.5,256.27 58.5,255.3 57.1,255.3 57.1,254.27 55.87,254.27 55.87,253.23 54.63,253.23 54.63,252.2 53.4,252.2 53.4,250.97 52.73,250.97 52.73,249.73 52.07,249.73 52.07,248.5 51.4,248.5 51.4,246.7 50.85,246.7 50.85,244.9 50.3,244.9 50.3,243.68 49.27,243.68 49.27,242.47 48.23,242.47 48.23,241.25 47.2,241.25 47.2,239.5 46.67,239.5 46.67,237.75 46.13,237.75 46.13,236 45.6,236 45.6,234.23 44.9,234.23 44.9,232.47 44.2,232.47 44.2,230.7 43.5,230.7 43.5,228.97 42.47,228.97 42.47,227.23 41.43,227.23 41.43,225.5 40.4,225.5 40.4,223.93 39.53,223.93 39.53,222.37 38.67,222.37 38.67,220.8 37.8,220.8 37.8,219.78 36.25,219.78 36.25,218.75 34.7,218.75 34.7,217.07 34.53,217.07 34.53,215.39 34.36,215.39 34.36,213.71 34.19,213.71 34.19,212.04 34.01,212.04 34.01,210.36 33.84,210.36 33.84,208.68 33.67,208.68 33.67,207 33.5,207" fill="#b2c8e3" />
<polygon points="33,207 33.3,207 33.3,208.6 33.6,208.6 33.6,210.2 33.9,210.2 33.9,211.8 34.2,211.8 34.2,213.4 34.5,213.4 34.5,215 34.75,215 34.75,216.67 35,216.67 35,218.33 35.25,218.33 35.25,220 35.5,220 35.5,221.67 35.75,221.67 35.75,223.33 36,223.33 36,225 36.3,225 36.3,226.6 36.6,226.6 36.6,228.2 36.9,228.2 36.9,229.8 37.2,229.8 37.2,231.4 37.5,231.4 37.5,233 37.98,233 37.98,234.75 38.45,234.75 38.45,236.5 38.92,236.5 38.92,238.25 39.4,238.25 39.4,240 39.65,240 39.65,241.62 39.9,241.62 39.9,243.25 40.15,243.25 40.15,244.88 40.4,244.88 40.4,246.5 41.8,246.5 41.8,247.53 43.2,247.53 43.2,248.57 44.6,248.57 44.6,249.6 45.8,249.6 45.8,250.3 47,250.3 47,251 48.2,251 48.2,251.7 49.5,251.7 49.5,252.72 50.8,252.72 50.8,253.75 52.2,253.75 52.2,254.27 53.6,254.27 53.6,254.78 55,254.78 55,255.3 56.75,255.3 56.75,256.2 58.5,256.2 58.5,257.1 59.9,257.1 59.9,257.97 61.3,257.97 61.3,258.83 62.7,258.83 62.7,259.7 64.16,259.7 64.16,260.01 65.62,260.01 65.62,260.32 67.08,260.32 67.08,260.63 68.54,260.63 68.54,260.94 70,260.94 70,261.25 71.4,261.25 71.4,261.93 72.8,261.93 72.8,262.62 74.2,262.62 74.2,263.3 75.57,263.3 75.57,263.83 76.93,263.83 76.93,264.37 78.3,264.37 78.3,264.9 79.88,264.9 79.88,265.42 81.45,265.42 81.45,265.95 83.02,265.95 83.02,266.48 84.6,266.48 84.6,267 86.33,267 86.33,267.25 88.07,267.25 88.07,267.5 89.8,267.5 89.8,267.75 91.53,267.75 91.53,268 93.27,268 93.27,268.25 95,268.25 95,268.5 96.79,268.5 96.79,268.53 98.59,268.53 98.59,268.55 100.38,268.55 100.38,268.58 102.17,268.58 102.17,268.6 103.96,268.6 103.96,268.63 105.76,268.63 105.76,268.66 107.55,268.66 107.55,268.68 109.34,268.68 109.34,268.71 111.13,268.71 111.13,268.73 112.93,268.73 112.93,268.76 114.72,268.76 114.72,268.79 116.51,268.79 116.51,268.81 118.3,268.81 118.3,268.84 120.1,268.84 120.1,268.86 121.89,268.86 121.89,268.89 123.68,268.89 123.68,268.91 125.47,268.91 125.47,268.94 127.27,268.94 127.27,268.97 129.06,268.97 129.06,268.99 130.85,268.99 130.85,269.02 132.64,269.02 132.64,269.04 134.44,269.04 134.44,269.07 136.23,269.07 136.23,269.1 138.02,269.1 138.02,269.12 139.81,269.12 139.81,269.15 141.61,269.15 141.61,269.17 143.4,269.17 143.4,269.2 143.4,284.8 143.4,284.78 141.64,284.78 141.64,284.76 139.87,284.76 139.87,284.74 138.11,284.74 138.11,284.71 136.34,284.71 136.34,284.69 134.58,284.69 134.58,284.67 132.81,284.67 132.81,284.65 131.05,284.65 131.05,284.63 129.29,284.63 129.29,284.61 127.52,284.61 127.52,284.59 125.76,284.59 125.76,284.56 123.99,284.56 123.99,284.54 122.23,284.54 122.23,284.52 120.46,284.52 120.46,284.5 118.7,284.5 118.7,284.48 116.94,284.48 116.94,284.46 115.17,284.46 115.17,284.44 113.41,284.44 113.41,284.41 111.64,284.41 111.64,284.39 109.88,284.39 109.88,284.37 108.11,284.37 108.11,284.35 106.35,284.35 106.35,284.33 104.59,284.33 104.59,284.31 102.82,284.31 102.82,284.29 101.06,284.29 101.06,284.26 99.29,284.26 99.29,284.24 97.53,284.24 97.53,284.22 95.76,284.22 95.76,284.2 94,284.2 94,283.88 92.54,283.88 92.54,283.56 91.08,283.56 91.08,283.24 89.62,283.24 89.62,282.92 88.16,282.92 88.16,282.6 86.7,282.6 86.7,282.25 84.96,282.25 84.96,281.9 83.22,281.9 83.22,281.55 81.47,281.55 81.47,281.2 79.73,281.2 79.73,280.85 77.99,280.85 77.99,280.5 76.25,280.5 76.25,280.12 74.69,280.12 74.69,279.75 73.12,279.75 73.12,279.38 71.56,279.38 71.56,279 70,279 70,278.3 68.6,278.3 68.6,277.6 67.2,277.6 67.2,276.9 65.8,276.9 65.8,276.48 64.14,276.48 64.14,276.06 62.48,276.06 62.48,275.64 60.82,275.64 60.82,275.22 59.16,275.22 59.16,274.8 57.5,274.8 57.5,274.15 55.94,274.15 55.94,273.5 54.38,273.5 54.38,272.85 52.81,272.85 52.81,272.2 51.25,272.2 51.25,270.9 49.69,270.9 49.69,269.6 48.12,269.6 48.12,268.3 46.56,268.3 46.56,267 45,267 45,265.7 44.33,265.7 44.33,264.4 43.67,264.4 43.67,263.1 43,263.1 43,261.73 42.5,261.73 42.5,260.37 42,260.37 42,259 41.5,259 41.5,257.3 40.98,257.3 40.98,255.6 40.45,255.6 40.45,253.9 39.92,253.9 39.92,252.2 39.4,252.2 39.4,250.5 38.88,250.5 38.88,248.8 38.35,248.8 38.35,247.1 37.82,247.1 37.82,245.4 37.3,245.4 37.3,243.67 37.03,243.67 37.03,241.93 36.77,241.93 36.77,240.2 36.5,240.2 36.5,238.47 36.23,238.47 36.23,236.73 35.97,236.73 35.97,235 35.7,235 35.7,233.38 35.49,233.38 35.49,231.75 35.28,231.75 35.28,230.12 35.06,230.12 35.06,228.5 34.85,228.5 34.85,226.88 34.64,226.88 34.64,225.25 34.42,225.25 34.42,223.62 34.21,223.62 34.21,222 34,222 34,220.33 33.83,220.33 33.83,218.67 33.67,218.67 33.67,217 33.5,217 33.5,215.33 33.33,215.33 33.33,213.67 33.17,213.67 33.17,212 33,212" fill="#ffc2c2" />
<polygon points="115.1,269.2 143.4,269.2 143.4,273.9 132.5,273.9 132.5,269.7 115.1,269.7" fill="#c0aece" />
<polyline points="33.5,207.3 33.75,207.3 33.75,208.85 34,208.85 34,210.4 34.25,210.4 34.25,211.95 34.5,211.95 34.5,213.5 36.25,213.5 36.25,215.1 37.83,215.1 37.83,215.9 39.4,215.9 39.4,216.7 40.15,216.7 40.15,218.25 40.9,218.25 40.9,219.8 41.95,219.8 41.95,221.1 43,221.1 43,222.4 43.8,222.4 43.8,223.95 44.6,223.95 44.6,225.5 45.3,225.5 45.3,227.07 46,227.07 46,228.63 46.7,228.63 46.7,230.2 47.38,230.2 47.38,231.43 48.07,231.43 48.07,232.67 48.75,232.67 48.75,233.9 49.26,233.9 49.26,235.6 49.77,235.6 49.77,237.3 50.29,237.3 50.29,239 50.8,239 50.8,240.7 51.6,240.7 51.6,241.75 52.4,241.75 52.4,242.8 53.7,242.8 53.7,243.85 55,243.85 55,244.9 56.3,244.9 56.3,246.2 57.6,246.2 57.6,247.5 59.15,247.5 59.15,248.8 60.7,248.8 60.7,250.1 62.48,250.1 62.48,250.2 64.26,250.2 64.26,250.3 66.04,250.3 66.04,250.4 67.82,250.4 67.82,250.5 69.6,250.5 69.6,250.6 71.15,250.6 71.15,251.65 72.7,251.65 72.7,252.7 74.25,252.7 74.25,253.5 75.8,253.5 75.8,254.3 76.45,254.3 76.45,255.2 77.1,255.2 77.1,256.1 89.6,256.1 89.6,258.2 108.3,258.2 108.3,260.3 115.1,260.3 115.1,262 132,262 132,265 165,265" stroke="#0b4ca3" stroke-width="1.45" fill="none" stroke-linejoin="round"/>
<polyline points="33,208.3 33.2,208.3 33.2,210.04 33.4,210.04 33.4,211.78 33.6,211.78 33.6,213.53 33.8,213.53 33.8,215.27 34,215.27 34,217.01 34.2,217.01 34.2,218.75 34.4,218.75 34.4,220.32 34.6,220.32 34.6,221.89 34.8,221.89 34.8,223.46 35,223.46 35,225.03 35.2,225.03 35.2,226.6 35.52,226.6 35.52,228.16 35.84,228.16 35.84,229.72 36.16,229.72 36.16,231.28 36.48,231.28 36.48,232.84 36.8,232.84 36.8,234.4 37.1,234.4 37.1,235.98 37.4,235.98 37.4,237.56 37.7,237.56 37.7,239.14 38,239.14 38,240.72 38.3,240.72 38.3,242.3 38.83,242.3 38.83,244.03 39.37,244.03 39.37,245.77 39.9,245.77 39.9,247.5 40.7,247.5 40.7,249.3 41.5,249.3 41.5,251.1 42,251.1 42,252.67 42.5,252.67 42.5,254.23 43,254.23 43,255.8 43.8,255.8 43.8,257.4 44.6,257.4 44.6,259 45.65,259 45.65,259.75 46.7,259.75 46.7,260.5 47.95,260.5 47.95,261.4 49.2,261.4 49.2,262.3 50.23,262.3 50.23,263.87 51.27,263.87 51.27,265.43 52.3,265.43 52.3,267 53.35,267 53.35,267.5 54.4,267.5 54.4,268 56.13,268 56.13,268.37 57.87,268.37 57.87,268.73 59.6,268.73 59.6,269.1 61.33,269.1 61.33,269.6 63.07,269.6 63.07,270.1 64.8,270.1 64.8,270.6 66.37,270.6 66.37,270.97 67.93,270.97 67.93,271.33 69.5,271.33 69.5,271.7 70.8,271.7 70.8,273 72.1,273 72.1,274.3 73.48,274.3 73.48,274.63 74.87,274.63 74.87,274.97 76.25,274.97 76.25,275.3 77.89,275.3 77.89,275.57 79.53,275.57 79.53,275.85 81.16,275.85 81.16,276.12 82.8,276.12 82.8,276.4 84.6,276.4 84.6,277.7 86.22,277.7 86.22,277.88 87.85,277.88 87.85,278.05 89.47,278.05 89.47,278.22 91.1,278.22 91.1,278.4 92.55,278.4 92.55,278.85 94,278.85 94,279.3 143.4,279.3" stroke="#ff0000" stroke-width="1.45" fill="none" stroke-linejoin="round"/>
<line x1="27.2" y1="204.5" x2="27.2" y2="297.5" stroke="#000" stroke-width="1.2" />
<line x1="26.6" y1="297" x2="161.7" y2="297" stroke="#000" stroke-width="1.2" />
<line x1="25" y1="208" x2="27.2" y2="208" stroke="#000" stroke-width="0.8" />
<text x="17.3" y="209.4" font-size="4.2" textLength="5.4" lengthAdjust="spacingAndGlyphs" stroke="#222" stroke-width="0.12" font-weight="bold" fill="#222" >1.00</text>
<line x1="25" y1="229.3" x2="27.2" y2="229.3" stroke="#000" stroke-width="0.8" />
<text x="17.3" y="230.7" font-size="4.2" textLength="5.4" lengthAdjust="spacingAndGlyphs" stroke="#222" stroke-width="0.12" font-weight="bold" fill="#222" >0.75</text>
<line x1="25" y1="250.6" x2="27.2" y2="250.6" stroke="#000" stroke-width="0.8" />
<text x="17.3" y="252" font-size="4.2" textLength="5.4" lengthAdjust="spacingAndGlyphs" stroke="#222" stroke-width="0.12" font-weight="bold" fill="#222" >0.50</text>
<line x1="25" y1="272" x2="27.2" y2="272" stroke="#000" stroke-width="0.8" />
<text x="17.3" y="273.4" font-size="4.2" textLength="5.4" lengthAdjust="spacingAndGlyphs" stroke="#222" stroke-width="0.12" font-weight="bold" fill="#222" >0.25</text>
<line x1="25" y1="293.3" x2="27.2" y2="293.3" stroke="#000" stroke-width="0.8" />
<text x="17.3" y="294.7" font-size="4.2" textLength="5.4" lengthAdjust="spacingAndGlyphs" stroke="#222" stroke-width="0.12" font-weight="bold" fill="#222" >0.00</text>
<line x1="32.9" y1="297" x2="32.9" y2="299" stroke="#000" stroke-width="0.8" />
<text x="32.9" y="303.3" font-size="4.3" stroke="#222" stroke-width="0.12" font-weight="bold" text-anchor="middle" fill="#222" >0</text>
<line x1="45.15" y1="297" x2="45.15" y2="299" stroke="#000" stroke-width="0.8" />
<text x="45.15" y="303.3" font-size="4.3" stroke="#222" stroke-width="0.12" font-weight="bold" text-anchor="middle" fill="#222" >1</text>
<line x1="57.4" y1="297" x2="57.4" y2="299" stroke="#000" stroke-width="0.8" />
<text x="57.4" y="303.3" font-size="4.3" stroke="#222" stroke-width="0.12" font-weight="bold" text-anchor="middle" fill="#222" >2</text>
<line x1="69.65" y1="297" x2="69.65" y2="299" stroke="#000" stroke-width="0.8" />
<text x="69.65" y="303.3" font-size="4.3" stroke="#222" stroke-width="0.12" font-weight="bold" text-anchor="middle" fill="#222" >3</text>
<line x1="81.9" y1="297" x2="81.9" y2="299" stroke="#000" stroke-width="0.8" />
<text x="81.9" y="303.3" font-size="4.3" stroke="#222" stroke-width="0.12" font-weight="bold" text-anchor="middle" fill="#222" >4</text>
<line x1="94.15" y1="297" x2="94.15" y2="299" stroke="#000" stroke-width="0.8" />
<text x="94.15" y="303.3" font-size="4.3" stroke="#222" stroke-width="0.12" font-weight="bold" text-anchor="middle" fill="#222" >5</text>
<line x1="106.4" y1="297" x2="106.4" y2="299" stroke="#000" stroke-width="0.8" />
<text x="106.4" y="303.3" font-size="4.3" stroke="#222" stroke-width="0.12" font-weight="bold" text-anchor="middle" fill="#222" >6</text>
<line x1="118.65" y1="297" x2="118.65" y2="299" stroke="#000" stroke-width="0.8" />
<text x="118.65" y="303.3" font-size="4.3" stroke="#222" stroke-width="0.12" font-weight="bold" text-anchor="middle" fill="#222" >7</text>
<line x1="130.9" y1="297" x2="130.9" y2="299" stroke="#000" stroke-width="0.8" />
<text x="130.9" y="303.3" font-size="4.3" stroke="#222" stroke-width="0.12" font-weight="bold" text-anchor="middle" fill="#222" >8</text>
<line x1="143.15" y1="297" x2="143.15" y2="299" stroke="#000" stroke-width="0.8" />
<text x="143.15" y="303.3" font-size="4.3" stroke="#222" stroke-width="0.12" font-weight="bold" text-anchor="middle" fill="#222" >9</text>
<line x1="155.4" y1="297" x2="155.4" y2="299" stroke="#000" stroke-width="0.8" />
<text x="155.4" y="303.3" font-size="4.3" stroke="#222" stroke-width="0.12" font-weight="bold" text-anchor="middle" fill="#222" >10</text>
<text x="14" y="253.9" font-size="8.2" textLength="71.3" lengthAdjust="spacingAndGlyphs" stroke="#111" stroke-width="0.12" font-weight="bold" text-anchor="middle" fill="#111" transform="rotate(-90 14 253.9)" >Survival probability</text>
<text x="95.3" y="311.2" font-size="7.4" textLength="28" lengthAdjust="spacingAndGlyphs" stroke="#111" stroke-width="0.3" text-anchor="middle" fill="#111" >Time(years)</text>
<text x="34.5" y="290.8" font-size="7" textLength="21.4" lengthAdjust="spacingAndGlyphs" stroke="#111" stroke-width="0.12" font-weight="bold" fill="#111" >p &lt; 0.001</text>
<text x="68.8" y="211.3" font-size="4.8" textLength="8.2" lengthAdjust="spacingAndGlyphs" stroke="#111" stroke-width="0.25" fill="#111" >Risk</text>
<rect x="78.8" y="206.7" width="5.2" height="5.8" stroke="none" stroke-width="1" fill="#ffc2c2" />
<line x1="78.8" y1="209.6" x2="84" y2="209.6" stroke="#ff0000" stroke-width="1.4" />
<text x="86" y="211.3" font-size="4.5" textLength="15" lengthAdjust="spacingAndGlyphs" stroke="#111" stroke-width="0.18" fill="#111" >High risk</text>
<rect x="101.7" y="206.7" width="5.2" height="5.8" stroke="none" stroke-width="1" fill="#b2c8e3" />
<line x1="101.7" y1="209.6" x2="106.9" y2="209.6" stroke="#0b4ca3" stroke-width="1.4" />
<text x="109" y="211.3" font-size="4.5" textLength="13.9" lengthAdjust="spacingAndGlyphs" stroke="#111" stroke-width="0.18" fill="#111" >Low risk</text>
<text x="6.5" y="333.5" font-size="5.8" textLength="13" lengthAdjust="spacingAndGlyphs" stroke="#111" stroke-width="0.12" font-weight="bold" text-anchor="middle" fill="#111" transform="rotate(-90 6.5 333.5)" >Risk</text>
<text x="25.6" y="332.4" font-size="5.2" textLength="16.2" lengthAdjust="spacingAndGlyphs" stroke="#ff2a2a" stroke-width="0.12" font-weight="bold" text-anchor="end" fill="#ff2a2a" >High risk</text>
<text x="25.6" y="339.3" font-size="5.2" textLength="15.6" lengthAdjust="spacingAndGlyphs" stroke="#2a6acc" stroke-width="0.12" font-weight="bold" text-anchor="end" fill="#2a6acc" >Low risk</text>
<line x1="27.5" y1="327" x2="27.5" y2="341.8" stroke="#000" stroke-width="1" />
<line x1="27" y1="341.7" x2="162" y2="341.7" stroke="#000" stroke-width="1" />
<text x="32.9" y="332.9" font-size="4.6" stroke="#111" stroke-width="0.15" text-anchor="middle" fill="#111" >73</text>
<text x="32.9" y="339.6" font-size="4.6" stroke="#111" stroke-width="0.15" text-anchor="middle" fill="#111" >63</text>
<line x1="32.9" y1="341.6" x2="32.9" y2="343.6" stroke="#000" stroke-width="0.8" />
<text x="32.9" y="348.2" font-size="4.3" stroke="#222" stroke-width="0.12" font-weight="bold" text-anchor="middle" fill="#222" >0</text>
<text x="45.15" y="332.9" font-size="4.6" stroke="#111" stroke-width="0.15" text-anchor="middle" fill="#111" >27</text>
<text x="45.15" y="339.6" font-size="4.6" stroke="#111" stroke-width="0.15" text-anchor="middle" fill="#111" >46</text>
<line x1="45.15" y1="341.6" x2="45.15" y2="343.6" stroke="#000" stroke-width="0.8" />
<text x="45.15" y="348.2" font-size="4.3" stroke="#222" stroke-width="0.12" font-weight="bold" text-anchor="middle" fill="#222" >1</text>
<text x="57.4" y="332.9" font-size="4.6" stroke="#111" stroke-width="0.15" text-anchor="middle" fill="#111" >19</text>
<text x="57.4" y="339.6" font-size="4.6" stroke="#111" stroke-width="0.15" text-anchor="middle" fill="#111" >32</text>
<line x1="57.4" y1="341.6" x2="57.4" y2="343.6" stroke="#000" stroke-width="0.8" />
<text x="57.4" y="348.2" font-size="4.3" stroke="#222" stroke-width="0.12" font-weight="bold" text-anchor="middle" fill="#222" >2</text>
<text x="69.65" y="332.9" font-size="4.6" stroke="#111" stroke-width="0.15" text-anchor="middle" fill="#111" >15</text>
<text x="69.65" y="339.6" font-size="4.6" stroke="#111" stroke-width="0.15" text-anchor="middle" fill="#111" >29</text>
<line x1="69.65" y1="341.6" x2="69.65" y2="343.6" stroke="#000" stroke-width="0.8" />
<text x="69.65" y="348.2" font-size="4.3" stroke="#222" stroke-width="0.12" font-weight="bold" text-anchor="middle" fill="#222" >3</text>
<text x="81.9" y="332.9" font-size="4.6" stroke="#111" stroke-width="0.15" text-anchor="middle" fill="#111" >11</text>
<text x="81.9" y="339.6" font-size="4.6" stroke="#111" stroke-width="0.15" text-anchor="middle" fill="#111" >22</text>
<line x1="81.9" y1="341.6" x2="81.9" y2="343.6" stroke="#000" stroke-width="0.8" />
<text x="81.9" y="348.2" font-size="4.3" stroke="#222" stroke-width="0.12" font-weight="bold" text-anchor="middle" fill="#222" >4</text>
<text x="94.15" y="332.9" font-size="4.6" stroke="#111" stroke-width="0.15" text-anchor="middle" fill="#111" >9</text>
<text x="94.15" y="339.6" font-size="4.6" stroke="#111" stroke-width="0.15" text-anchor="middle" fill="#111" >21</text>
<line x1="94.15" y1="341.6" x2="94.15" y2="343.6" stroke="#000" stroke-width="0.8" />
<text x="94.15" y="348.2" font-size="4.3" stroke="#222" stroke-width="0.12" font-weight="bold" text-anchor="middle" fill="#222" >5</text>
<text x="106.4" y="332.9" font-size="4.6" stroke="#111" stroke-width="0.15" text-anchor="middle" fill="#111" >8</text>
<text x="106.4" y="339.6" font-size="4.6" stroke="#111" stroke-width="0.15" text-anchor="middle" fill="#111" >20</text>
<line x1="106.4" y1="341.6" x2="106.4" y2="343.6" stroke="#000" stroke-width="0.8" />
<text x="106.4" y="348.2" font-size="4.3" stroke="#222" stroke-width="0.12" font-weight="bold" text-anchor="middle" fill="#222" >6</text>
<text x="118.65" y="332.9" font-size="4.6" stroke="#111" stroke-width="0.15" text-anchor="middle" fill="#111" >8</text>
<text x="118.65" y="339.6" font-size="4.6" stroke="#111" stroke-width="0.15" text-anchor="middle" fill="#111" >16</text>
<line x1="118.65" y1="341.6" x2="118.65" y2="343.6" stroke="#000" stroke-width="0.8" />
<text x="118.65" y="348.2" font-size="4.3" stroke="#222" stroke-width="0.12" font-weight="bold" text-anchor="middle" fill="#222" >7</text>
<text x="130.9" y="332.9" font-size="4.6" stroke="#111" stroke-width="0.15" text-anchor="middle" fill="#111" >3</text>
<text x="130.9" y="339.6" font-size="4.6" stroke="#111" stroke-width="0.15" text-anchor="middle" fill="#111" >12</text>
<line x1="130.9" y1="341.6" x2="130.9" y2="343.6" stroke="#000" stroke-width="0.8" />
<text x="130.9" y="348.2" font-size="4.3" stroke="#222" stroke-width="0.12" font-weight="bold" text-anchor="middle" fill="#222" >8</text>
<text x="143.15" y="332.9" font-size="4.6" stroke="#111" stroke-width="0.15" text-anchor="middle" fill="#111" >0</text>
<text x="143.15" y="339.6" font-size="4.6" stroke="#111" stroke-width="0.15" text-anchor="middle" fill="#111" >5</text>
<line x1="143.15" y1="341.6" x2="143.15" y2="343.6" stroke="#000" stroke-width="0.8" />
<text x="143.15" y="348.2" font-size="4.3" stroke="#222" stroke-width="0.12" font-weight="bold" text-anchor="middle" fill="#222" >9</text>
<text x="155.4" y="332.9" font-size="4.6" stroke="#111" stroke-width="0.15" text-anchor="middle" fill="#111" >0</text>
<text x="155.4" y="339.6" font-size="4.6" stroke="#111" stroke-width="0.15" text-anchor="middle" fill="#111" >2</text>
<line x1="155.4" y1="341.6" x2="155.4" y2="343.6" stroke="#000" stroke-width="0.8" />
<text x="155.4" y="348.2" font-size="4.3" stroke="#222" stroke-width="0.12" font-weight="bold" text-anchor="middle" fill="#222" >10</text>
<text x="93.4" y="356.3" font-size="7.8" textLength="29.5" lengthAdjust="spacingAndGlyphs" stroke="#111" stroke-width="0.35" text-anchor="middle" fill="#111" >Time(years)</text>
<text x="174.6" y="186.3" font-size="11" fill="#333" >C</text>
<rect x="190.6" y="209.7" width="125.4" height="130.3" stroke="#555" stroke-width="1" fill="none" />
<line x1="187" y1="336" x2="190.6" y2="336" stroke="#555" stroke-width="1" />
<text x="183.2" y="336" font-size="6" textLength="8.3" lengthAdjust="spacingAndGlyphs" stroke="#111" stroke-width="0.12" font-weight="bold" text-anchor="middle" fill="#111" transform="rotate(-90 183.2 336)" >0.0</text>
<line x1="194.8" y1="340" x2="194.8" y2="343.5" stroke="#555" stroke-width="1" />
<text x="194.8" y="355.6" font-size="5.2" textLength="6.3" lengthAdjust="spacingAndGlyphs" stroke="#111" stroke-width="0.12" font-weight="bold" text-anchor="middle" fill="#111" >0.0</text>
<line x1="187" y1="311.7" x2="190.6" y2="311.7" stroke="#555" stroke-width="1" />
<text x="183.2" y="311.7" font-size="6" textLength="8.3" lengthAdjust="spacingAndGlyphs" stroke="#111" stroke-width="0.12" font-weight="bold" text-anchor="middle" fill="#111" transform="rotate(-90 183.2 311.7)" >0.2</text>
<line x1="218.09" y1="340" x2="218.09" y2="343.5" stroke="#555" stroke-width="1" />
<text x="218.09" y="355.6" font-size="5.2" textLength="6.3" lengthAdjust="spacingAndGlyphs" stroke="#111" stroke-width="0.12" font-weight="bold" text-anchor="middle" fill="#111" >0.2</text>
<line x1="187" y1="287.4" x2="190.6" y2="287.4" stroke="#555" stroke-width="1" />
<text x="183.2" y="287.4" font-size="6" textLength="8.3" lengthAdjust="spacingAndGlyphs" stroke="#111" stroke-width="0.12" font-weight="bold" text-anchor="middle" fill="#111" transform="rotate(-90 183.2 287.4)" >0.4</text>
<line x1="241.38" y1="340" x2="241.38" y2="343.5" stroke="#555" stroke-width="1" />
<text x="241.38" y="355.6" font-size="5.2" textLength="6.3" lengthAdjust="spacingAndGlyphs" stroke="#111" stroke-width="0.12" font-weight="bold" text-anchor="middle" fill="#111" >0.4</text>
<line x1="187" y1="263.1" x2="190.6" y2="263.1" stroke="#555" stroke-width="1" />
<text x="183.2" y="263.1" font-size="6" textLength="8.3" lengthAdjust="spacingAndGlyphs" stroke="#111" stroke-width="0.12" font-weight="bold" text-anchor="middle" fill="#111" transform="rotate(-90 183.2 263.1)" >0.6</text>
<line x1="264.67" y1="340" x2="264.67" y2="343.5" stroke="#555" stroke-width="1" />
<text x="264.67" y="355.6" font-size="5.2" textLength="6.3" lengthAdjust="spacingAndGlyphs" stroke="#111" stroke-width="0.12" font-weight="bold" text-anchor="middle" fill="#111" >0.6</text>
<line x1="187" y1="238.8" x2="190.6" y2="238.8" stroke="#555" stroke-width="1" />
<text x="183.2" y="238.8" font-size="6" textLength="8.3" lengthAdjust="spacingAndGlyphs" stroke="#111" stroke-width="0.12" font-weight="bold" text-anchor="middle" fill="#111" transform="rotate(-90 183.2 238.8)" >0.8</text>
<line x1="287.96" y1="340" x2="287.96" y2="343.5" stroke="#555" stroke-width="1" />
<text x="287.96" y="355.6" font-size="5.2" textLength="6.3" lengthAdjust="spacingAndGlyphs" stroke="#111" stroke-width="0.12" font-weight="bold" text-anchor="middle" fill="#111" >0.8</text>
<line x1="187" y1="214.5" x2="190.6" y2="214.5" stroke="#555" stroke-width="1" />
<text x="183.2" y="214.5" font-size="6" textLength="8.3" lengthAdjust="spacingAndGlyphs" stroke="#111" stroke-width="0.12" font-weight="bold" text-anchor="middle" fill="#111" transform="rotate(-90 183.2 214.5)" >1.0</text>
<line x1="311.25" y1="340" x2="311.25" y2="343.5" stroke="#555" stroke-width="1" />
<text x="311.25" y="355.6" font-size="5.2" textLength="6.3" lengthAdjust="spacingAndGlyphs" stroke="#111" stroke-width="0.12" font-weight="bold" text-anchor="middle" fill="#111" >1.0</text>
<text x="177" y="270.2" font-size="7.4" textLength="35.6" lengthAdjust="spacingAndGlyphs" stroke="#111" stroke-width="0.12" font-weight="bold" text-anchor="middle" fill="#111" transform="rotate(-90 177 270.2)" >Sensitivity</text>
<text x="254.2" y="364.4" font-size="6.2" textLength="32.8" lengthAdjust="spacingAndGlyphs" stroke="#111" stroke-width="0.12" font-weight="bold" text-anchor="middle" fill="#111" >1-Specificity</text>
<line x1="194" y1="337.2" x2="315" y2="212.5" stroke="#333" stroke-width="1.1" stroke-dasharray="2.4,2.1"/>
<polyline points="193.5,335.3 194.5,335.3 194.5,331 197.3,331 197.3,325.5 199.1,325.5 199.1,316.8 202.3,316.8 202.3,310.5 205,310.5 205,308.6 207.3,308.6 207.3,306.4 209.5,306.4 209.5,300 211.4,300 211.4,296.4 215.8,296.4 215.8,284 220.3,284 220.3,276.4 222.8,276.4 222.8,262.3 228.3,262.3 228.3,250.3 234.3,250.3 234.3,246.1 240,246.1 240,238.3 248.3,238.3 248.3,234.7 255.1,234.7 255.1,232.8 265.8,232.8 265.8,230.1 272.6,230.1 272.6,227.4 276.7,227.4 276.7,225.1 283.5,225.1 283.5,222.6 287.5,222.6 287.5,220.6 295.7,220.6 295.7,216.5 303.1,216.5 303.1,214.5 306.5,214.5 306.5,213.8 311.9,213.8 311.9,213.3" stroke="#2ecc2e" stroke-width="1.3" fill="none" />
<polyline points="193.5,336 195,336 195,330 197.3,330 197.3,326.4 199.5,326.4 199.5,320 201.8,320 201.8,316.8 208,316.8 208,311.8 210.9,311.8 210.9,308.2 213.2,308.2 213.2,302.7 215.2,302.7 215.2,293.6 219.6,293.6 219.6,283.4 222.2,283.4 222.2,280.9 225.4,280.9 225.4,264.4 231.1,264.4 231.1,258.1 234.3,258.1 234.3,254.5 236.9,254.5 236.9,247.2 240,247.2 240,241.5 247.3,241.5 247.3,240.4 259.1,240.4 259.1,238.9 267.2,238.9 267.2,237.5 271.3,237.5 271.3,234.8 275.3,234.8 275.3,232.1 280.7,232.1 280.7,230.1 286.2,230.1 286.2,226.7 287.5,226.7 287.5,224.6 295.7,224.6 295.7,223.3 299.7,223.3 299.7,221.9 305.1,221.9 305.1,219.9 306.5,219.9 306.5,217.2 307.8,217.2 307.8,215.2 309.2,215.2 309.2,214 311.9,214 311.9,213.3" stroke="#1f5fc8" stroke-width="1.3" fill="none" />
<polyline points="193.5,336 194.5,336 194.5,330.9 198.4,330.9 198.4,321.4 201.8,321.4 201.8,317.3 206.4,317.3 206.4,313.2 210.5,313.2 210.5,302.7 214.3,302.7 214.3,293 217.7,293 217.7,280.9 221.5,280.9 221.5,266.5 225.4,266.5 225.4,261.3 229.6,261.3 229.6,257.6 233.5,257.6 233.5,244.6 240.5,244.6 240.5,241.5 249.4,241.5 249.4,239.9 255,239.9 255,238.2 260.4,238.2 260.4,236.2 264.5,236.2 264.5,234.1 268.6,234.1 268.6,232.1 272.6,232.1 272.6,230.1 278,230.1 278,228 283.5,228 283.5,223.3 287.5,223.3 287.5,222.6 295.7,222.6 295.7,221.3 306.5,221.3 306.5,218.6 307.8,218.6 307.8,215.2 309.9,215.2 309.9,214.2 311.9,214.2 311.9,213.3" stroke="#ff2222" stroke-width="1.3" fill="none" />
<line x1="243.3" y1="315.8" x2="254.2" y2="315.8" stroke="#2ecc2e" stroke-width="1.3" />
<text x="259.2" y="318" font-size="6" textLength="50.5" lengthAdjust="spacingAndGlyphs" stroke="#111" stroke-width="0.12" font-weight="bold" fill="#111" >AUC at 1 years: 0.717</text>
<line x1="243.3" y1="324.2" x2="254.2" y2="324.2" stroke="#1f5fc8" stroke-width="1.3" />
<text x="259.2" y="326.4" font-size="6" textLength="50.5" lengthAdjust="spacingAndGlyphs" stroke="#111" stroke-width="0.12" font-weight="bold" fill="#111" >AUC at 3 years: 0.668</text>
<line x1="243.3" y1="332.2" x2="254.2" y2="332.2" stroke="#ff2222" stroke-width="1.3" />
<text x="259.2" y="334.4" font-size="6" textLength="46.5" lengthAdjust="spacingAndGlyphs" stroke="#111" stroke-width="0.12" font-weight="bold" fill="#111" >AUC at 5 years: 0.69</text>
<text x="345.8" y="186.3" font-size="11" fill="#333" >D</text>
<line x1="354.2" y1="198.3" x2="354.2" y2="259" stroke="#000" stroke-width="1.3" />
<line x1="353.7" y1="258.5" x2="399.5" y2="258.5" stroke="#000" stroke-width="1.3" />
<line x1="351.7" y1="198.3" x2="354.2" y2="198.3" stroke="#000" stroke-width="1" />
<text x="351" y="200.2" font-size="5.4" stroke="#333" stroke-width="0.12" font-weight="bold" text-anchor="end" fill="#333" >10</text>
<line x1="351.7" y1="210.3" x2="354.2" y2="210.3" stroke="#000" stroke-width="1" />
<text x="351" y="212.2" font-size="5.4" stroke="#333" stroke-width="0.12" font-weight="bold" text-anchor="end" fill="#333" >8</text>
<line x1="351.7" y1="222.3" x2="354.2" y2="222.3" stroke="#000" stroke-width="1" />
<text x="351" y="224.2" font-size="5.4" stroke="#333" stroke-width="0.12" font-weight="bold" text-anchor="end" fill="#333" >6</text>
<line x1="351.7" y1="234.4" x2="354.2" y2="234.4" stroke="#000" stroke-width="1" />
<text x="351" y="236.3" font-size="5.4" stroke="#333" stroke-width="0.12" font-weight="bold" text-anchor="end" fill="#333" >4</text>
<line x1="351.7" y1="246.4" x2="354.2" y2="246.4" stroke="#000" stroke-width="1" />
<text x="351" y="248.3" font-size="5.4" stroke="#333" stroke-width="0.12" font-weight="bold" text-anchor="end" fill="#333" >2</text>
<line x1="351.7" y1="258.5" x2="354.2" y2="258.5" stroke="#000" stroke-width="1" />
<text x="351" y="260.4" font-size="5.4" stroke="#333" stroke-width="0.12" font-weight="bold" text-anchor="end" fill="#333" >0</text>
<line x1="366.9" y1="212" x2="366.9" y2="235.3" stroke="#555" stroke-width="0.8" />
<line x1="363.9" y1="212" x2="369.9" y2="212" stroke="#444" stroke-width="0.9" />
<rect x="360.95" y="236.05" width="11.9" height="22.45" stroke="#000" stroke-width="1.5" fill="#1a1414" />
<line x1="366.9" y1="258.5" x2="366.9" y2="260.7" stroke="#000" stroke-width="1" />
<line x1="386.25" y1="246.2" x2="386.25" y2="253" stroke="#555" stroke-width="0.8" />
<line x1="383.25" y1="246.2" x2="389.25" y2="246.2" stroke="#444" stroke-width="0.9" />
<rect x="380.75" y="253.75" width="11" height="4.75" stroke="#000" stroke-width="1.5" fill="#a6acb8" />
<line x1="386.25" y1="258.5" x2="386.25" y2="260.7" stroke="#000" stroke-width="1" />
<polyline points="366.5,209.8 366.5,207.1 388.5,207.1 388.5,209.8" stroke="#000" stroke-width="1.1" fill="none" />
<text x="378.4" y="209" font-size="9.5" font-weight="bold" text-anchor="middle" >*</text>
<text x="366.6" y="266.4" font-size="5.8" textLength="17" lengthAdjust="spacingAndGlyphs" stroke="#111" stroke-width="0.12" font-weight="bold" text-anchor="middle" fill="#111" >Control</text>
<text x="386.5" y="266.4" font-size="5.8" textLength="10.6" lengthAdjust="spacingAndGlyphs" stroke="#111" stroke-width="0.12" font-weight="bold" text-anchor="middle" fill="#111" >AML</text>
<text x="371.9" y="276" font-size="6.2" textLength="16.3" lengthAdjust="spacingAndGlyphs" stroke="#111" stroke-width="0.12" font-weight="bold" text-anchor="middle" fill="#111" >UROD</text>
<text x="334.8" y="229.6" font-size="6.1" textLength="44" lengthAdjust="spacingAndGlyphs" stroke="#111" stroke-width="0.12" font-weight="bold" text-anchor="middle" fill="#111" transform="rotate(-90 334.8 229.6)" >Relative mRNA level</text>
<text x="341.3" y="229.6" font-size="6.1" textLength="44" lengthAdjust="spacingAndGlyphs" stroke="#111" stroke-width="0.12" font-weight="bold" text-anchor="middle" fill="#111" transform="rotate(-90 341.3 229.6)" >adjusted to GAPDH</text>
<line x1="417.5" y1="198.3" x2="417.5" y2="258.8" stroke="#000" stroke-width="1.3" />
<line x1="417" y1="258.3" x2="464.2" y2="258.3" stroke="#000" stroke-width="1.3" />
<line x1="415" y1="198.3" x2="417.5" y2="198.3" stroke="#000" stroke-width="1" />
<text x="414.3" y="200.2" font-size="5.4" stroke="#333" stroke-width="0.12" font-weight="bold" text-anchor="end" fill="#333" >3</text>
<line x1="415" y1="218.3" x2="417.5" y2="218.3" stroke="#000" stroke-width="1" />
<text x="414.3" y="220.2" font-size="5.4" stroke="#333" stroke-width="0.12" font-weight="bold" text-anchor="end" fill="#333" >2</text>
<line x1="415" y1="238.3" x2="417.5" y2="238.3" stroke="#000" stroke-width="1" />
<text x="414.3" y="240.2" font-size="5.4" stroke="#333" stroke-width="0.12" font-weight="bold" text-anchor="end" fill="#333" >1</text>
<line x1="415" y1="258.3" x2="417.5" y2="258.3" stroke="#000" stroke-width="1" />
<text x="414.3" y="260.2" font-size="5.4" stroke="#333" stroke-width="0.12" font-weight="bold" text-anchor="end" fill="#333" >0</text>
<line x1="431.65" y1="209.2" x2="431.65" y2="227.5" stroke="#555" stroke-width="0.8" />
<line x1="428.65" y1="209.2" x2="434.65" y2="209.2" stroke="#444" stroke-width="0.9" />
<rect x="426.55" y="228.25" width="10.2" height="30.05" stroke="#000" stroke-width="1.5" fill="#1a1414" />
<line x1="431.65" y1="258.3" x2="431.65" y2="260.5" stroke="#000" stroke-width="1" />
<line x1="450.85" y1="242.5" x2="450.85" y2="250" stroke="#555" stroke-width="0.8" />
<line x1="447.85" y1="242.5" x2="453.85" y2="242.5" stroke="#444" stroke-width="0.9" />
<rect x="445.45" y="250.75" width="10.8" height="7.55" stroke="#000" stroke-width="1.5" fill="#a6acb8" />
<line x1="450.85" y1="258.3" x2="450.85" y2="260.5" stroke="#000" stroke-width="1" />
<polyline points="430.3,208 430.3,205.3 451.3,205.3 451.3,208" stroke="#000" stroke-width="1.1" fill="none" />
<text x="441.7" y="206.9" font-size="9.5" textLength="11" lengthAdjust="spacingAndGlyphs" font-weight="bold" text-anchor="middle" >***</text>
<text x="431.6" y="266.4" font-size="5.8" textLength="16.7" lengthAdjust="spacingAndGlyphs" stroke="#111" stroke-width="0.12" font-weight="bold" text-anchor="middle" fill="#111" >Control</text>
<text x="450.8" y="266.4" font-size="5.8" textLength="11" lengthAdjust="spacingAndGlyphs" stroke="#111" stroke-width="0.12" font-weight="bold" text-anchor="middle" fill="#111" >AML</text>
<text x="434.2" y="276" font-size="6.2" textLength="14" lengthAdjust="spacingAndGlyphs" stroke="#111" stroke-width="0.12" font-weight="bold" text-anchor="middle" fill="#111" >PCTP</text>
<text x="404.3" y="230.8" font-size="6.1" textLength="43.5" lengthAdjust="spacingAndGlyphs" stroke="#111" stroke-width="0.12" font-weight="bold" text-anchor="middle" fill="#111" transform="rotate(-90 404.3 230.8)" >Relative mRNA level</text>
<text x="409.5" y="230.8" font-size="6.1" textLength="43.5" lengthAdjust="spacingAndGlyphs" stroke="#111" stroke-width="0.12" font-weight="bold" text-anchor="middle" fill="#111" transform="rotate(-90 409.5 230.8)" >adjusted to GAPDH</text>
<line x1="355" y1="280" x2="355" y2="340.5" stroke="#000" stroke-width="1.3" />
<line x1="354.5" y1="340" x2="400" y2="340" stroke="#000" stroke-width="1.3" />
<line x1="352.5" y1="280" x2="355" y2="280" stroke="#000" stroke-width="1" />
<text x="351.8" y="281.9" font-size="5.4" stroke="#333" stroke-width="0.12" font-weight="bold" text-anchor="end" fill="#333" >20</text>
<line x1="352.5" y1="295" x2="355" y2="295" stroke="#000" stroke-width="1" />
<text x="351.8" y="296.9" font-size="5.4" stroke="#333" stroke-width="0.12" font-weight="bold" text-anchor="end" fill="#333" >15</text>
<line x1="352.5" y1="310" x2="355" y2="310" stroke="#000" stroke-width="1" />
<text x="351.8" y="311.9" font-size="5.4" stroke="#333" stroke-width="0.12" font-weight="bold" text-anchor="end" fill="#333" >10</text>
<line x1="352.5" y1="325" x2="355" y2="325" stroke="#000" stroke-width="1" />
<text x="351.8" y="326.9" font-size="5.4" stroke="#333" stroke-width="0.12" font-weight="bold" text-anchor="end" fill="#333" >5</text>
<line x1="352.5" y1="340" x2="355" y2="340" stroke="#000" stroke-width="1" />
<text x="351.8" y="341.9" font-size="5.4" stroke="#333" stroke-width="0.12" font-weight="bold" text-anchor="end" fill="#333" >0</text>
<line x1="367.5" y1="332.5" x2="367.5" y2="336.3" stroke="#555" stroke-width="0.8" />
<line x1="364.5" y1="332.5" x2="370.5" y2="332.5" stroke="#444" stroke-width="0.9" />
<rect x="361.55" y="337.05" width="11.9" height="2.95" stroke="#000" stroke-width="1.5" fill="#1a1414" />
<line x1="367.5" y1="340" x2="367.5" y2="342.2" stroke="#000" stroke-width="1" />
<line x1="387.05" y1="294.2" x2="387.05" y2="317" stroke="#555" stroke-width="0.8" />
<line x1="384.05" y1="294.2" x2="390.05" y2="294.2" stroke="#444" stroke-width="0.9" />
<rect x="381.55" y="317.75" width="11" height="22.25" stroke="#000" stroke-width="1.5" fill="#a6acb8" />
<line x1="387.05" y1="340" x2="387.05" y2="342.2" stroke="#000" stroke-width="1" />
<polyline points="367.5,293 367.5,290.3 388,290.3 388,293" stroke="#000" stroke-width="1.1" fill="none" />
<text x="378.65" y="291.8" font-size="9.5" font-weight="bold" text-anchor="middle" >*</text>
<text x="367.5" y="348.2" font-size="5.8" textLength="17" lengthAdjust="spacingAndGlyphs" stroke="#111" stroke-width="0.12" font-weight="bold" text-anchor="middle" fill="#111" >Control</text>
<text x="386.9" y="348.2" font-size="5.8" textLength="11" lengthAdjust="spacingAndGlyphs" stroke="#111" stroke-width="0.12" font-weight="bold" text-anchor="middle" fill="#111" >AML</text>
<text x="375" y="357.5" font-size="6.2" textLength="25" lengthAdjust="spacingAndGlyphs" stroke="#111" stroke-width="0.12" font-weight="bold" text-anchor="middle" fill="#111" >PLA2G4A</text>
<text x="335.6" y="310.8" font-size="6.1" textLength="45" lengthAdjust="spacingAndGlyphs" stroke="#111" stroke-width="0.12" font-weight="bold" text-anchor="middle" fill="#111" transform="rotate(-90 335.6 310.8)" >Relative mRNA level</text>
<text x="343.1" y="310.8" font-size="6.1" textLength="45" lengthAdjust="spacingAndGlyphs" stroke="#111" stroke-width="0.12" font-weight="bold" text-anchor="middle" fill="#111" transform="rotate(-90 343.1 310.8)" >adjusted to GAPDH</text>
<line x1="417.5" y1="280.3" x2="417.5" y2="340.8" stroke="#000" stroke-width="1.3" />
<line x1="417" y1="340.3" x2="464.2" y2="340.3" stroke="#000" stroke-width="1.3" />
<line x1="415" y1="280.3" x2="417.5" y2="280.3" stroke="#000" stroke-width="1" />
<text x="414.3" y="282.2" font-size="5.4" stroke="#333" stroke-width="0.12" font-weight="bold" text-anchor="end" fill="#333" >10</text>
<line x1="415" y1="292.3" x2="417.5" y2="292.3" stroke="#000" stroke-width="1" />
<text x="414.3" y="294.2" font-size="5.4" stroke="#333" stroke-width="0.12" font-weight="bold" text-anchor="end" fill="#333" >8</text>
<line x1="415" y1="304.3" x2="417.5" y2="304.3" stroke="#000" stroke-width="1" />
<text x="414.3" y="306.2" font-size="5.4" stroke="#333" stroke-width="0.12" font-weight="bold" text-anchor="end" fill="#333" >6</text>
<line x1="415" y1="316.3" x2="417.5" y2="316.3" stroke="#000" stroke-width="1" />
<text x="414.3" y="318.2" font-size="5.4" stroke="#333" stroke-width="0.12" font-weight="bold" text-anchor="end" fill="#333" >4</text>
<line x1="415" y1="328.3" x2="417.5" y2="328.3" stroke="#000" stroke-width="1" />
<text x="414.3" y="330.2" font-size="5.4" stroke="#333" stroke-width="0.12" font-weight="bold" text-anchor="end" fill="#333" >2</text>
<line x1="415" y1="340.3" x2="417.5" y2="340.3" stroke="#000" stroke-width="1" />
<text x="414.3" y="342.2" font-size="5.4" stroke="#333" stroke-width="0.12" font-weight="bold" text-anchor="end" fill="#333" >0</text>
<line x1="431.9" y1="293.7" x2="431.9" y2="310.3" stroke="#555" stroke-width="0.8" />
<line x1="428.9" y1="293.7" x2="434.9" y2="293.7" stroke="#444" stroke-width="0.9" />
<rect x="426.55" y="311.05" width="10.7" height="29.25" stroke="#000" stroke-width="1.5" fill="#1a1414" />
<line x1="431.9" y1="340.3" x2="431.9" y2="342.5" stroke="#000" stroke-width="1" />
<line x1="450.85" y1="336.3" x2="450.85" y2="337.5" stroke="#555" stroke-width="0.8" />
<line x1="447.85" y1="336.3" x2="453.85" y2="336.3" stroke="#444" stroke-width="0.9" />
<rect x="445.45" y="338.25" width="10.8" height="2.05" stroke="#000" stroke-width="1.5" fill="#a6acb8" />
<line x1="450.85" y1="340.3" x2="450.85" y2="342.5" stroke="#000" stroke-width="1" />
<polyline points="431.3,293 431.3,290.3 452,290.3 452,293" stroke="#000" stroke-width="1.1" fill="none" />
<text x="442.55" y="291.8" font-size="9.5" font-weight="bold" text-anchor="middle" >*</text>
<text x="430.8" y="348.2" font-size="5.8" textLength="16.7" lengthAdjust="spacingAndGlyphs" stroke="#111" stroke-width="0.12" font-weight="bold" text-anchor="middle" fill="#111" >Control</text>
<text x="450.8" y="348.2" font-size="5.8" textLength="11" lengthAdjust="spacingAndGlyphs" stroke="#111" stroke-width="0.12" font-weight="bold" text-anchor="middle" fill="#111" >AML</text>
<text x="436" y="357.5" font-size="6.2" textLength="18.6" lengthAdjust="spacingAndGlyphs" stroke="#111" stroke-width="0.12" font-weight="bold" text-anchor="middle" fill="#111" >EPHX2</text>
<text x="404.3" y="310.8" font-size="6.1" textLength="45" lengthAdjust="spacingAndGlyphs" stroke="#111" stroke-width="0.12" font-weight="bold" text-anchor="middle" fill="#111" transform="rotate(-90 404.3 310.8)" >Relative mRNA level</text>
<text x="409.5" y="310.8" font-size="6.1" textLength="45" lengthAdjust="spacingAndGlyphs" stroke="#111" stroke-width="0.12" font-weight="bold" text-anchor="middle" fill="#111" transform="rotate(-90 409.5 310.8)" >adjusted to GAPDH</text>
<text x="8.7" y="380" font-size="11.2" fill="#333" >E</text>
<text x="83" y="393.3" font-size="7.7" textLength="21.3" lengthAdjust="spacingAndGlyphs" stroke="#111" stroke-width="0.12" font-weight="bold" text-anchor="middle" fill="#111" >1-year</text>
<rect x="33.3" y="398.5" width="135.2" height="117.3" stroke="#555" stroke-width="1" fill="none" />
<line x1="29.8" y1="511.8" x2="33.3" y2="511.8" stroke="#555" stroke-width="1" />
<text x="25.7" y="511.8" font-size="7.6" textLength="10.5" lengthAdjust="spacingAndGlyphs" stroke="#111" stroke-width="0.12" font-weight="bold" text-anchor="middle" fill="#111" transform="rotate(-90 25.7 511.8)" >0.0</text>
<line x1="38.3" y1="515.8" x2="38.3" y2="519.3" stroke="#555" stroke-width="1" />
<text x="38.3" y="527.5" font-size="7.6" textLength="9.6" lengthAdjust="spacingAndGlyphs" stroke="#111" stroke-width="0.12" font-weight="bold" text-anchor="middle" fill="#111" >0.0</text>
<line x1="29.8" y1="490.1" x2="33.3" y2="490.1" stroke="#555" stroke-width="1" />
<text x="25.7" y="490.1" font-size="7.6" textLength="10.5" lengthAdjust="spacingAndGlyphs" stroke="#111" stroke-width="0.12" font-weight="bold" text-anchor="middle" fill="#111" transform="rotate(-90 25.7 490.1)" >0.2</text>
<line x1="63.3" y1="515.8" x2="63.3" y2="519.3" stroke="#555" stroke-width="1" />
<text x="63.3" y="527.5" font-size="7.6" textLength="9.6" lengthAdjust="spacingAndGlyphs" stroke="#111" stroke-width="0.12" font-weight="bold" text-anchor="middle" fill="#111" >0.2</text>
<line x1="29.8" y1="468.4" x2="33.3" y2="468.4" stroke="#555" stroke-width="1" />
<text x="25.7" y="468.4" font-size="7.6" textLength="10.5" lengthAdjust="spacingAndGlyphs" stroke="#111" stroke-width="0.12" font-weight="bold" text-anchor="middle" fill="#111" transform="rotate(-90 25.7 468.4)" >0.4</text>
<line x1="88.3" y1="515.8" x2="88.3" y2="519.3" stroke="#555" stroke-width="1" />
<text x="88.3" y="527.5" font-size="7.6" textLength="9.6" lengthAdjust="spacingAndGlyphs" stroke="#111" stroke-width="0.12" font-weight="bold" text-anchor="middle" fill="#111" >0.4</text>
<line x1="29.8" y1="446.7" x2="33.3" y2="446.7" stroke="#555" stroke-width="1" />
<text x="25.7" y="446.7" font-size="7.6" textLength="10.5" lengthAdjust="spacingAndGlyphs" stroke="#111" stroke-width="0.12" font-weight="bold" text-anchor="middle" fill="#111" transform="rotate(-90 25.7 446.7)" >0.6</text>
<line x1="113.3" y1="515.8" x2="113.3" y2="519.3" stroke="#555" stroke-width="1" />
<text x="113.3" y="527.5" font-size="7.6" textLength="9.6" lengthAdjust="spacingAndGlyphs" stroke="#111" stroke-width="0.12" font-weight="bold" text-anchor="middle" fill="#111" >0.6</text>
<line x1="29.8" y1="425" x2="33.3" y2="425" stroke="#555" stroke-width="1" />
<text x="25.7" y="425" font-size="7.6" textLength="10.5" lengthAdjust="spacingAndGlyphs" stroke="#111" stroke-width="0.12" font-weight="bold" text-anchor="middle" fill="#111" transform="rotate(-90 25.7 425)" >0.8</text>
<line x1="138.3" y1="515.8" x2="138.3" y2="519.3" stroke="#555" stroke-width="1" />
<text x="138.3" y="527.5" font-size="7.6" textLength="9.6" lengthAdjust="spacingAndGlyphs" stroke="#111" stroke-width="0.12" font-weight="bold" text-anchor="middle" fill="#111" >0.8</text>
<line x1="29.8" y1="403.3" x2="33.3" y2="403.3" stroke="#555" stroke-width="1" />
<text x="25.7" y="403.3" font-size="7.6" textLength="10.5" lengthAdjust="spacingAndGlyphs" stroke="#111" stroke-width="0.12" font-weight="bold" text-anchor="middle" fill="#111" transform="rotate(-90 25.7 403.3)" >1.0</text>
<line x1="163.3" y1="515.8" x2="163.3" y2="519.3" stroke="#555" stroke-width="1" />
<text x="163.3" y="527.5" font-size="7.6" textLength="9.6" lengthAdjust="spacingAndGlyphs" stroke="#111" stroke-width="0.12" font-weight="bold" text-anchor="middle" fill="#111" >1.0</text>
<text x="13.2" y="449.8" font-size="7.8" textLength="36.5" lengthAdjust="spacingAndGlyphs" stroke="#111" stroke-width="0.12" font-weight="bold" text-anchor="middle" fill="#111" transform="rotate(-90 13.2 449.8)" >Sensitivity</text>
<text x="99" y="542.5" font-size="8.4" textLength="42.5" lengthAdjust="spacingAndGlyphs" stroke="#111" stroke-width="0.12" font-weight="bold" text-anchor="middle" fill="#111" >1-Specificity</text>
<polyline points="38.8,511.8 38.8,487.5 40.2,487.5 40.2,475.8 42.2,475.8 42.2,473.3 43.8,473.3 43.8,448.3 46.3,448.3 46.3,444.2 52.2,444.2 52.2,439.2 55.5,439.2 55.5,437 59.7,437 59.7,435 63.8,435 63.8,430.8 68,430.8 68,428.3 70.5,428.3 70.5,426.3 74.2,426.3 74.2,418.3 83,418.3 83,416.3 90.5,416.3 90.5,414.7 112.2,414.7 112.2,412.5 121.3,412.5 121.3,410.8 127.2,410.8 127.2,409.2 128.8,409.2 128.8,406.7 131.3,406.7 131.3,405 133,405 133,402.5 161.3,402.5 163.8,403.3" stroke="#ff2a2a" stroke-width="1.4" fill="none" stroke-linejoin="miter"/>
<polyline points="38.8,511.8 38.8,502.3 163.8,418.5 163.8,403.3" stroke="#a6d92b" stroke-width="1.4" fill="none" stroke-linejoin="miter"/>
<polyline points="38.8,511.8 38.8,501.7 42.2,501.7 42.2,499.2 45.5,499.2 45.5,497.5 48.5,497.5 48.5,494.5 52.5,494.5 52.5,492 56.3,492 56.3,490.8 59.7,490.8 59.7,478.7 75.5,478.7 75.5,477.5 80.5,477.5 80.5,475.8 85.5,475.8 85.5,474.2 89.7,474.2 89.7,465 93.8,465 93.8,459.7 97.2,459.7 97.2,456.7 112.2,456.7 113.8,455 129.7,455 129.7,450 135.5,450 135.5,443.3 143.8,443.3 143.8,440.8 145.5,440.8 145.5,435.8 148.8,435.8 148.8,426.7 152.2,426.7 152.2,425 158,425 158,420.8 160.5,420.8 160.5,416.7 160.5,403.3 163.8,403.3" stroke="#22c46a" stroke-width="1.4" fill="none" stroke-linejoin="miter"/>
<polyline points="38.8,511.8 38.8,508.3 42.2,504.2 48.8,504.2 49.7,502.5 53.8,502 59.7,499.2 59.7,486.7 73,486.7 78,484.2 80.5,482.5 83.8,480 88.8,480 88.8,472.5 93,472.5 93,466.7 94.7,461.7 100.5,460 108.8,456.7 112.2,450 112.2,444.2 120.5,444.2 124.7,440.8 126.3,436.7 128.8,434.2 131.3,428.3 133,425 138,420 138.8,416.3 148,416.3 148.8,412.5 152.2,409.7 160.5,409.7 162.2,404.2 163.8,403.3" stroke="#1a73c9" stroke-width="1.4" fill="none" stroke-linejoin="miter"/>
<line x1="33.69" y1="515.8" x2="168.5" y2="398.79" stroke="#222" stroke-width="0.8" />
<line x1="99.2" y1="490.8" x2="109.2" y2="490.8" stroke="#ff2a2a" stroke-width="1.5" />
<text x="114.2" y="493" font-size="6.6" textLength="46.6" lengthAdjust="spacingAndGlyphs" stroke="#111" stroke-width="0.12" font-weight="bold" fill="#111" >11gene, AUC=0.848</text>
<line x1="99.2" y1="497.25" x2="109.2" y2="497.25" stroke="#a6d92b" stroke-width="1.5" />
<text x="114.2" y="499.45" font-size="6.6" textLength="52.8" lengthAdjust="spacingAndGlyphs" stroke="#111" stroke-width="0.12" font-weight="bold" fill="#111" >JHO2016, AUC=0.468</text>
<line x1="99.2" y1="503.7" x2="109.2" y2="503.7" stroke="#22c46a" stroke-width="1.5" />
<text x="114.2" y="505.9" font-size="6.6" textLength="52.5" lengthAdjust="spacingAndGlyphs" stroke="#111" stroke-width="0.12" font-weight="bold" fill="#111" >AJH2021, AUC=0.460</text>
<line x1="99.2" y1="510.15" x2="109.2" y2="510.15" stroke="#1a73c9" stroke-width="1.5" />
<text x="114.2" y="512.35" font-size="6.6" textLength="50" lengthAdjust="spacingAndGlyphs" stroke="#111" stroke-width="0.12" font-weight="bold" fill="#111" >Lou2020, AUC=0.491</text>
<text x="170.8" y="380" font-size="11.2" fill="#333" >F</text>
<text x="249" y="394.6" font-size="7.7" textLength="21.3" lengthAdjust="spacingAndGlyphs" stroke="#111" stroke-width="0.12" font-weight="bold" text-anchor="middle" fill="#111" >3-year</text>
<rect x="189.2" y="399.2" width="131.4" height="116.6" stroke="#555" stroke-width="1" fill="none" />
<line x1="185.7" y1="512" x2="189.2" y2="512" stroke="#555" stroke-width="1" />
<text x="181.6" y="512" font-size="7.6" textLength="10.5" lengthAdjust="spacingAndGlyphs" stroke="#111" stroke-width="0.12" font-weight="bold" text-anchor="middle" fill="#111" transform="rotate(-90 181.6 512)" >0.0</text>
<line x1="194.2" y1="515.8" x2="194.2" y2="519.3" stroke="#555" stroke-width="1" />
<text x="194.2" y="529" font-size="7.6" textLength="9.6" lengthAdjust="spacingAndGlyphs" stroke="#111" stroke-width="0.12" font-weight="bold" text-anchor="middle" fill="#111" >0.0</text>
<line x1="185.7" y1="490.26" x2="189.2" y2="490.26" stroke="#555" stroke-width="1" />
<text x="181.6" y="490.26" font-size="7.6" textLength="10.5" lengthAdjust="spacingAndGlyphs" stroke="#111" stroke-width="0.12" font-weight="bold" text-anchor="middle" fill="#111" transform="rotate(-90 181.6 490.26)" >0.2</text>
<line x1="218.42" y1="515.8" x2="218.42" y2="519.3" stroke="#555" stroke-width="1" />
<text x="218.42" y="529" font-size="7.6" textLength="9.6" lengthAdjust="spacingAndGlyphs" stroke="#111" stroke-width="0.12" font-weight="bold" text-anchor="middle" fill="#111" >0.2</text>
<line x1="185.7" y1="468.52" x2="189.2" y2="468.52" stroke="#555" stroke-width="1" />
<text x="181.6" y="468.52" font-size="7.6" textLength="10.5" lengthAdjust="spacingAndGlyphs" stroke="#111" stroke-width="0.12" font-weight="bold" text-anchor="middle" fill="#111" transform="rotate(-90 181.6 468.52)" >0.4</text>
<line x1="242.64" y1="515.8" x2="242.64" y2="519.3" stroke="#555" stroke-width="1" />
<text x="242.64" y="529" font-size="7.6" textLength="9.6" lengthAdjust="spacingAndGlyphs" stroke="#111" stroke-width="0.12" font-weight="bold" text-anchor="middle" fill="#111" >0.4</text>
<line x1="185.7" y1="446.78" x2="189.2" y2="446.78" stroke="#555" stroke-width="1" />
<text x="181.6" y="446.78" font-size="7.6" textLength="10.5" lengthAdjust="spacingAndGlyphs" stroke="#111" stroke-width="0.12" font-weight="bold" text-anchor="middle" fill="#111" transform="rotate(-90 181.6 446.78)" >0.6</text>
<line x1="266.86" y1="515.8" x2="266.86" y2="519.3" stroke="#555" stroke-width="1" />
<text x="266.86" y="529" font-size="7.6" textLength="9.6" lengthAdjust="spacingAndGlyphs" stroke="#111" stroke-width="0.12" font-weight="bold" text-anchor="middle" fill="#111" >0.6</text>
<line x1="185.7" y1="425.04" x2="189.2" y2="425.04" stroke="#555" stroke-width="1" />
<text x="181.6" y="425.04" font-size="7.6" textLength="10.5" lengthAdjust="spacingAndGlyphs" stroke="#111" stroke-width="0.12" font-weight="bold" text-anchor="middle" fill="#111" transform="rotate(-90 181.6 425.04)" >0.8</text>
<line x1="291.08" y1="515.8" x2="291.08" y2="519.3" stroke="#555" stroke-width="1" />
<text x="291.08" y="529" font-size="7.6" textLength="9.6" lengthAdjust="spacingAndGlyphs" stroke="#111" stroke-width="0.12" font-weight="bold" text-anchor="middle" fill="#111" >0.8</text>
<line x1="185.7" y1="403.3" x2="189.2" y2="403.3" stroke="#555" stroke-width="1" />
<text x="181.6" y="403.3" font-size="7.6" textLength="10.5" lengthAdjust="spacingAndGlyphs" stroke="#111" stroke-width="0.12" font-weight="bold" text-anchor="middle" fill="#111" transform="rotate(-90 181.6 403.3)" >1.0</text>
<line x1="315.3" y1="515.8" x2="315.3" y2="519.3" stroke="#555" stroke-width="1" />
<text x="315.3" y="529" font-size="7.6" textLength="9.6" lengthAdjust="spacingAndGlyphs" stroke="#111" stroke-width="0.12" font-weight="bold" text-anchor="middle" fill="#111" >1.0</text>
<text x="259.4" y="545" font-size="8.4" textLength="42.5" lengthAdjust="spacingAndGlyphs" stroke="#111" stroke-width="0.12" font-weight="bold" text-anchor="middle" fill="#111" >1-Specificity</text>
<polyline points="194.2,512 194.2,464.2 200,464.2 200,456.7 205.3,456.7 205.3,444.2 210.8,444.2 210.8,442.5 216.7,442.5 216.7,441.7 221.3,441.7 221.3,435 226.3,435 226.3,425 232.5,425 232.5,423.3 241.7,423.3 241.7,420.3 247.5,420.3 247.5,419.2 251.7,419.2 251.7,415.8 256.7,415.8 256.7,412.5 261.7,412.5 261.7,410.8 266.7,410.8 266.7,408.3 275,408.3 275,406.3 296.7,406.3 296.7,405 311.7,405 311.7,404.2 315.3,404.2 315.3,403.3" stroke="#ff2a2a" stroke-width="1.4" fill="none" stroke-linejoin="miter"/>
<polyline points="194.2,500 265.8,461.7 315.3,415 315.3,403.3" stroke="#a6d92b" stroke-width="1.4" fill="none" stroke-linejoin="miter"/>
<polyline points="194.2,512 194.2,505.8 200.8,505.8 200.8,504.2 215,504.2 215,497.5 223.3,497.5 230.8,494.2 230.8,488.3 235,486.7 240,486.7 240,461.3 245,460.8 255,459.2 285.8,459.2 285.8,437.5 292.5,435 315.3,433.3 315.3,403.3" stroke="#22c46a" stroke-width="1.4" fill="none" stroke-linejoin="miter"/>
<polyline points="194.2,512 195,510 210,510 210,503 223.3,503 223.3,486.7 234.2,486.7 234.2,480 245.8,478.7 245.8,466.3 255.8,466.3 255.8,448.7 283.3,444.7 284.7,443 284.7,437.5 291.7,434.2 292.5,430.8 300,426.7 300.8,424.2 308.3,423.3 308.7,413.3 315.3,410 315.3,403.3" stroke="#1a73c9" stroke-width="1.4" fill="none" stroke-linejoin="miter"/>
<line x1="189.97" y1="515.8" x2="319.87" y2="399.2" stroke="#222" stroke-width="0.8" />
<line x1="253" y1="490.8" x2="263" y2="490.8" stroke="#ff2a2a" stroke-width="1.5" />
<text x="268" y="493" font-size="6.6" textLength="45" lengthAdjust="spacingAndGlyphs" stroke="#111" stroke-width="0.12" font-weight="bold" fill="#111" >11gene, AUC=0.836</text>
<line x1="253" y1="497.25" x2="263" y2="497.25" stroke="#a6d92b" stroke-width="1.5" />
<text x="268" y="499.45" font-size="6.6" textLength="51.3" lengthAdjust="spacingAndGlyphs" stroke="#111" stroke-width="0.12" font-weight="bold" fill="#111" >JHO2016, AUC=0.454</text>
<line x1="253" y1="503.7" x2="263" y2="503.7" stroke="#22c46a" stroke-width="1.5" />
<text x="268" y="505.9" font-size="6.6" textLength="51" lengthAdjust="spacingAndGlyphs" stroke="#111" stroke-width="0.12" font-weight="bold" fill="#111" >AJH2021, AUC=0.404</text>
<line x1="253" y1="510.15" x2="263" y2="510.15" stroke="#1a73c9" stroke-width="1.5" />
<text x="268" y="512.35" font-size="6.6" textLength="48.5" lengthAdjust="spacingAndGlyphs" stroke="#111" stroke-width="0.12" font-weight="bold" fill="#111" >Lou2020, AUC=0.443</text>
<text x="325" y="380" font-size="11.2" fill="#333" >G</text>
<text x="397" y="394.5" font-size="7.7" textLength="21.3" lengthAdjust="spacingAndGlyphs" stroke="#111" stroke-width="0.12" font-weight="bold" text-anchor="middle" fill="#111" >5-year</text>
<rect x="344.2" y="399.2" width="130.8" height="116.6" stroke="#555" stroke-width="1" fill="none" />
<line x1="340.7" y1="512" x2="344.2" y2="512" stroke="#555" stroke-width="1" />
<text x="336.6" y="512" font-size="7.6" textLength="10.5" lengthAdjust="spacingAndGlyphs" stroke="#111" stroke-width="0.12" font-weight="bold" text-anchor="middle" fill="#111" transform="rotate(-90 336.6 512)" >0.0</text>
<line x1="349.2" y1="515.8" x2="349.2" y2="519.3" stroke="#555" stroke-width="1" />
<text x="349.2" y="529" font-size="7.6" textLength="9.6" lengthAdjust="spacingAndGlyphs" stroke="#111" stroke-width="0.12" font-weight="bold" text-anchor="middle" fill="#111" >0.0</text>
<line x1="340.7" y1="490.26" x2="344.2" y2="490.26" stroke="#555" stroke-width="1" />
<text x="336.6" y="490.26" font-size="7.6" textLength="10.5" lengthAdjust="spacingAndGlyphs" stroke="#111" stroke-width="0.12" font-weight="bold" text-anchor="middle" fill="#111" transform="rotate(-90 336.6 490.26)" >0.2</text>
<line x1="373.3" y1="515.8" x2="373.3" y2="519.3" stroke="#555" stroke-width="1" />
<text x="373.3" y="529" font-size="7.6" textLength="9.6" lengthAdjust="spacingAndGlyphs" stroke="#111" stroke-width="0.12" font-weight="bold" text-anchor="middle" fill="#111" >0.2</text>
<line x1="340.7" y1="468.52" x2="344.2" y2="468.52" stroke="#555" stroke-width="1" />
<text x="336.6" y="468.52" font-size="7.6" textLength="10.5" lengthAdjust="spacingAndGlyphs" stroke="#111" stroke-width="0.12" font-weight="bold" text-anchor="middle" fill="#111" transform="rotate(-90 336.6 468.52)" >0.4</text>
<line x1="397.4" y1="515.8" x2="397.4" y2="519.3" stroke="#555" stroke-width="1" />
<text x="397.4" y="529" font-size="7.6" textLength="9.6" lengthAdjust="spacingAndGlyphs" stroke="#111" stroke-width="0.12" font-weight="bold" text-anchor="middle" fill="#111" >0.4</text>
<line x1="340.7" y1="446.78" x2="344.2" y2="446.78" stroke="#555" stroke-width="1" />
<text x="336.6" y="446.78" font-size="7.6" textLength="10.5" lengthAdjust="spacingAndGlyphs" stroke="#111" stroke-width="0.12" font-weight="bold" text-anchor="middle" fill="#111" transform="rotate(-90 336.6 446.78)" >0.6</text>
<line x1="421.5" y1="515.8" x2="421.5" y2="519.3" stroke="#555" stroke-width="1" />
<text x="421.5" y="529" font-size="7.6" textLength="9.6" lengthAdjust="spacingAndGlyphs" stroke="#111" stroke-width="0.12" font-weight="bold" text-anchor="middle" fill="#111" >0.6</text>
<line x1="340.7" y1="425.04" x2="344.2" y2="425.04" stroke="#555" stroke-width="1" />
<text x="336.6" y="425.04" font-size="7.6" textLength="10.5" lengthAdjust="spacingAndGlyphs" stroke="#111" stroke-width="0.12" font-weight="bold" text-anchor="middle" fill="#111" transform="rotate(-90 336.6 425.04)" >0.8</text>
<line x1="445.6" y1="515.8" x2="445.6" y2="519.3" stroke="#555" stroke-width="1" />
<text x="445.6" y="529" font-size="7.6" textLength="9.6" lengthAdjust="spacingAndGlyphs" stroke="#111" stroke-width="0.12" font-weight="bold" text-anchor="middle" fill="#111" >0.8</text>
<line x1="340.7" y1="403.3" x2="344.2" y2="403.3" stroke="#555" stroke-width="1" />
<text x="336.6" y="403.3" font-size="7.6" textLength="10.5" lengthAdjust="spacingAndGlyphs" stroke="#111" stroke-width="0.12" font-weight="bold" text-anchor="middle" fill="#111" transform="rotate(-90 336.6 403.3)" >1.0</text>
<line x1="469.7" y1="515.8" x2="469.7" y2="519.3" stroke="#555" stroke-width="1" />
<text x="469.7" y="529" font-size="7.6" textLength="9.6" lengthAdjust="spacingAndGlyphs" stroke="#111" stroke-width="0.12" font-weight="bold" text-anchor="middle" fill="#111" >1.0</text>
<text x="409.6" y="544.6" font-size="8.4" textLength="42.5" lengthAdjust="spacingAndGlyphs" stroke="#111" stroke-width="0.12" font-weight="bold" text-anchor="middle" fill="#111" >1-Specificity</text>
<polyline points="349.2,446.3 377.5,446.3 377.5,425.3 401.3,425.3 401.3,406.3 450,406.3 450.8,405 462.5,405 463,403.3 469.7,403.3" stroke="#ff2a2a" stroke-width="1.4" fill="none" stroke-linejoin="miter"/>
<polyline points="349.2,499.7 469.2,414.2 469.7,403.3" stroke="#a6d92b" stroke-width="1.4" fill="none" stroke-linejoin="miter"/>
<polyline points="349.2,512 349.2,504.7 375,504.7 375,456.3 436.3,456.3 436.3,434.2 469.7,431.3 469.7,403.3" stroke="#22c46a" stroke-width="1.4" fill="none" stroke-linejoin="miter"/>
<polyline points="349.2,512 349.2,445 386.7,445 387.5,443.3 420.8,441.3 420.8,435.8 435.8,433.7 448.3,432 448.3,423.3 469.7,423.3 469.7,403.3" stroke="#1a73c9" stroke-width="1.4" fill="none" stroke-linejoin="miter"/>
<line x1="344.99" y1="515.8" x2="474.25" y2="399.2" stroke="#222" stroke-width="0.8" />
<line x1="407.5" y1="490.8" x2="417.5" y2="490.8" stroke="#ff2a2a" stroke-width="1.5" />
<text x="422.5" y="493" font-size="6.6" textLength="45" lengthAdjust="spacingAndGlyphs" stroke="#111" stroke-width="0.12" font-weight="bold" fill="#111" >11gene, AUC=0.856</text>
<line x1="407.5" y1="497.25" x2="417.5" y2="497.25" stroke="#a6d92b" stroke-width="1.5" />
<text x="422.5" y="499.45" font-size="6.6" textLength="51" lengthAdjust="spacingAndGlyphs" stroke="#111" stroke-width="0.12" font-weight="bold" fill="#111" >JHO2016, AUC=0.521</text>
<line x1="407.5" y1="503.7" x2="417.5" y2="503.7" stroke="#22c46a" stroke-width="1.5" />
<text x="422.5" y="505.9" font-size="6.6" textLength="51" lengthAdjust="spacingAndGlyphs" stroke="#111" stroke-width="0.12" font-weight="bold" fill="#111" >AJH2021, AUC=0.480</text>
<line x1="407.5" y1="510.15" x2="417.5" y2="510.15" stroke="#1a73c9" stroke-width="1.5" />
<text x="422.5" y="512.35" font-size="6.6" textLength="48.5" lengthAdjust="spacingAndGlyphs" stroke="#111" stroke-width="0.12" font-weight="bold" fill="#111" >Lou2020, AUC=0.685</text>
</svg></body></html>
